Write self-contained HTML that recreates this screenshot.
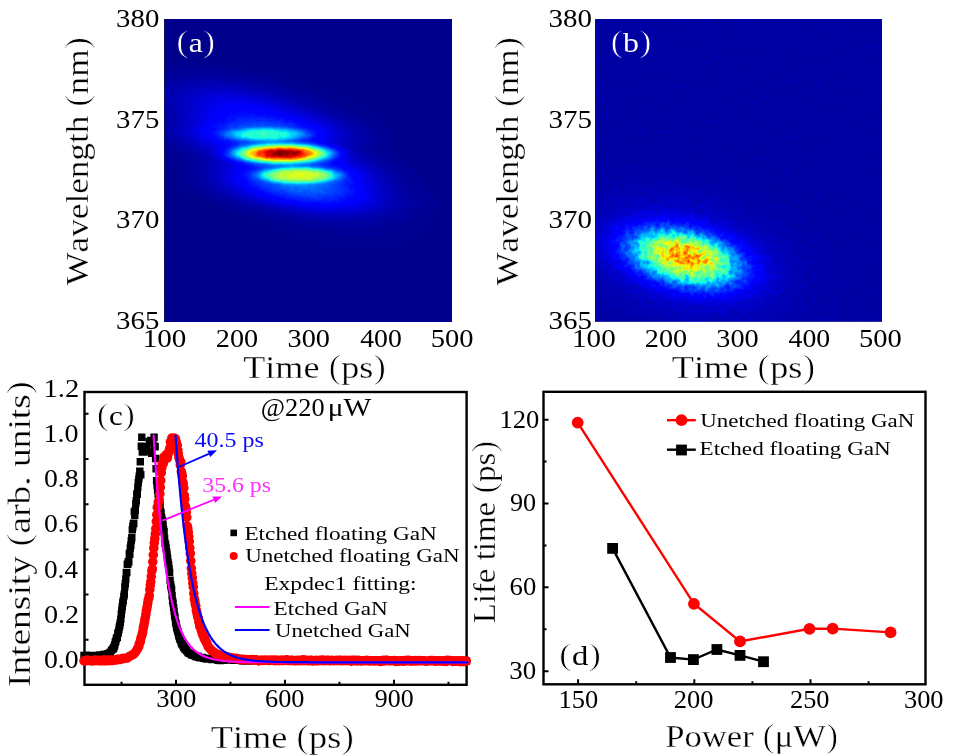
<!DOCTYPE html>
<html><head><meta charset="utf-8"><title>figure</title>
<style>html,body{margin:0;padding:0;background:#fff;overflow:hidden}svg{display:block;will-change:transform}</style>
</head><body>
<svg width="957" height="755" viewBox="0 0 957 755">
<defs><radialGradient id="g1"><stop offset="0.000" stop-color="#fff" stop-opacity="0.1400"/><stop offset="0.042" stop-color="#fff" stop-opacity="0.1388"/><stop offset="0.083" stop-color="#fff" stop-opacity="0.1351"/><stop offset="0.125" stop-color="#fff" stop-opacity="0.1292"/><stop offset="0.167" stop-color="#fff" stop-opacity="0.1214"/><stop offset="0.208" stop-color="#fff" stop-opacity="0.1121"/><stop offset="0.250" stop-color="#fff" stop-opacity="0.1017"/><stop offset="0.292" stop-color="#fff" stop-opacity="0.0906"/><stop offset="0.333" stop-color="#fff" stop-opacity="0.0793"/><stop offset="0.375" stop-color="#fff" stop-opacity="0.0681"/><stop offset="0.417" stop-color="#fff" stop-opacity="0.0576"/><stop offset="0.458" stop-color="#fff" stop-opacity="0.0478"/><stop offset="0.500" stop-color="#fff" stop-opacity="0.0389"/><stop offset="0.542" stop-color="#fff" stop-opacity="0.0312"/><stop offset="0.583" stop-color="#fff" stop-opacity="0.0245"/><stop offset="0.625" stop-color="#fff" stop-opacity="0.0189"/><stop offset="0.667" stop-color="#fff" stop-opacity="0.0144"/><stop offset="0.708" stop-color="#fff" stop-opacity="0.0107"/><stop offset="0.750" stop-color="#fff" stop-opacity="0.0079"/><stop offset="0.792" stop-color="#fff" stop-opacity="0.0057"/><stop offset="0.833" stop-color="#fff" stop-opacity="0.0040"/><stop offset="0.875" stop-color="#fff" stop-opacity="0.0028"/><stop offset="0.917" stop-color="#fff" stop-opacity="0.0019"/><stop offset="0.958" stop-color="#fff" stop-opacity="0.0013"/><stop offset="1.000" stop-color="#fff" stop-opacity="0.0000"/></radialGradient><radialGradient id="g2"><stop offset="0.000" stop-color="#fff" stop-opacity="0.1000"/><stop offset="0.042" stop-color="#fff" stop-opacity="0.0991"/><stop offset="0.083" stop-color="#fff" stop-opacity="0.0965"/><stop offset="0.125" stop-color="#fff" stop-opacity="0.0923"/><stop offset="0.167" stop-color="#fff" stop-opacity="0.0867"/><stop offset="0.208" stop-color="#fff" stop-opacity="0.0801"/><stop offset="0.250" stop-color="#fff" stop-opacity="0.0726"/><stop offset="0.292" stop-color="#fff" stop-opacity="0.0647"/><stop offset="0.333" stop-color="#fff" stop-opacity="0.0566"/><stop offset="0.375" stop-color="#fff" stop-opacity="0.0487"/><stop offset="0.417" stop-color="#fff" stop-opacity="0.0411"/><stop offset="0.458" stop-color="#fff" stop-opacity="0.0341"/><stop offset="0.500" stop-color="#fff" stop-opacity="0.0278"/><stop offset="0.542" stop-color="#fff" stop-opacity="0.0223"/><stop offset="0.583" stop-color="#fff" stop-opacity="0.0175"/><stop offset="0.625" stop-color="#fff" stop-opacity="0.0135"/><stop offset="0.667" stop-color="#fff" stop-opacity="0.0103"/><stop offset="0.708" stop-color="#fff" stop-opacity="0.0077"/><stop offset="0.750" stop-color="#fff" stop-opacity="0.0056"/><stop offset="0.792" stop-color="#fff" stop-opacity="0.0040"/><stop offset="0.833" stop-color="#fff" stop-opacity="0.0029"/><stop offset="0.875" stop-color="#fff" stop-opacity="0.0020"/><stop offset="0.917" stop-color="#fff" stop-opacity="0.0014"/><stop offset="0.958" stop-color="#fff" stop-opacity="0.0009"/><stop offset="1.000" stop-color="#fff" stop-opacity="0.0000"/></radialGradient><radialGradient id="g3"><stop offset="0.000" stop-color="#fff" stop-opacity="0.0700"/><stop offset="0.042" stop-color="#fff" stop-opacity="0.0694"/><stop offset="0.083" stop-color="#fff" stop-opacity="0.0676"/><stop offset="0.125" stop-color="#fff" stop-opacity="0.0646"/><stop offset="0.167" stop-color="#fff" stop-opacity="0.0607"/><stop offset="0.208" stop-color="#fff" stop-opacity="0.0561"/><stop offset="0.250" stop-color="#fff" stop-opacity="0.0508"/><stop offset="0.292" stop-color="#fff" stop-opacity="0.0453"/><stop offset="0.333" stop-color="#fff" stop-opacity="0.0396"/><stop offset="0.375" stop-color="#fff" stop-opacity="0.0341"/><stop offset="0.417" stop-color="#fff" stop-opacity="0.0288"/><stop offset="0.458" stop-color="#fff" stop-opacity="0.0239"/><stop offset="0.500" stop-color="#fff" stop-opacity="0.0195"/><stop offset="0.542" stop-color="#fff" stop-opacity="0.0156"/><stop offset="0.583" stop-color="#fff" stop-opacity="0.0123"/><stop offset="0.625" stop-color="#fff" stop-opacity="0.0095"/><stop offset="0.667" stop-color="#fff" stop-opacity="0.0072"/><stop offset="0.708" stop-color="#fff" stop-opacity="0.0054"/><stop offset="0.750" stop-color="#fff" stop-opacity="0.0039"/><stop offset="0.792" stop-color="#fff" stop-opacity="0.0028"/><stop offset="0.833" stop-color="#fff" stop-opacity="0.0020"/><stop offset="0.875" stop-color="#fff" stop-opacity="0.0014"/><stop offset="0.917" stop-color="#fff" stop-opacity="0.0009"/><stop offset="0.958" stop-color="#fff" stop-opacity="0.0006"/><stop offset="1.000" stop-color="#fff" stop-opacity="0.0000"/></radialGradient><radialGradient id="g4"><stop offset="0.000" stop-color="#fff" stop-opacity="0.1100"/><stop offset="0.042" stop-color="#fff" stop-opacity="0.1090"/><stop offset="0.083" stop-color="#fff" stop-opacity="0.1062"/><stop offset="0.125" stop-color="#fff" stop-opacity="0.1015"/><stop offset="0.167" stop-color="#fff" stop-opacity="0.0954"/><stop offset="0.208" stop-color="#fff" stop-opacity="0.0881"/><stop offset="0.250" stop-color="#fff" stop-opacity="0.0799"/><stop offset="0.292" stop-color="#fff" stop-opacity="0.0712"/><stop offset="0.333" stop-color="#fff" stop-opacity="0.0623"/><stop offset="0.375" stop-color="#fff" stop-opacity="0.0535"/><stop offset="0.417" stop-color="#fff" stop-opacity="0.0452"/><stop offset="0.458" stop-color="#fff" stop-opacity="0.0375"/><stop offset="0.500" stop-color="#fff" stop-opacity="0.0306"/><stop offset="0.542" stop-color="#fff" stop-opacity="0.0245"/><stop offset="0.583" stop-color="#fff" stop-opacity="0.0193"/><stop offset="0.625" stop-color="#fff" stop-opacity="0.0149"/><stop offset="0.667" stop-color="#fff" stop-opacity="0.0113"/><stop offset="0.708" stop-color="#fff" stop-opacity="0.0084"/><stop offset="0.750" stop-color="#fff" stop-opacity="0.0062"/><stop offset="0.792" stop-color="#fff" stop-opacity="0.0044"/><stop offset="0.833" stop-color="#fff" stop-opacity="0.0031"/><stop offset="0.875" stop-color="#fff" stop-opacity="0.0022"/><stop offset="0.917" stop-color="#fff" stop-opacity="0.0015"/><stop offset="0.958" stop-color="#fff" stop-opacity="0.0010"/><stop offset="1.000" stop-color="#fff" stop-opacity="0.0000"/></radialGradient><radialGradient id="g5"><stop offset="0.000" stop-color="#fff" stop-opacity="0.1200"/><stop offset="0.042" stop-color="#fff" stop-opacity="0.1189"/><stop offset="0.083" stop-color="#fff" stop-opacity="0.1158"/><stop offset="0.125" stop-color="#fff" stop-opacity="0.1108"/><stop offset="0.167" stop-color="#fff" stop-opacity="0.1041"/><stop offset="0.208" stop-color="#fff" stop-opacity="0.0961"/><stop offset="0.250" stop-color="#fff" stop-opacity="0.0871"/><stop offset="0.292" stop-color="#fff" stop-opacity="0.0776"/><stop offset="0.333" stop-color="#fff" stop-opacity="0.0679"/><stop offset="0.375" stop-color="#fff" stop-opacity="0.0584"/><stop offset="0.417" stop-color="#fff" stop-opacity="0.0493"/><stop offset="0.458" stop-color="#fff" stop-opacity="0.0409"/><stop offset="0.500" stop-color="#fff" stop-opacity="0.0334"/><stop offset="0.542" stop-color="#fff" stop-opacity="0.0267"/><stop offset="0.583" stop-color="#fff" stop-opacity="0.0210"/><stop offset="0.625" stop-color="#fff" stop-opacity="0.0162"/><stop offset="0.667" stop-color="#fff" stop-opacity="0.0123"/><stop offset="0.708" stop-color="#fff" stop-opacity="0.0092"/><stop offset="0.750" stop-color="#fff" stop-opacity="0.0067"/><stop offset="0.792" stop-color="#fff" stop-opacity="0.0048"/><stop offset="0.833" stop-color="#fff" stop-opacity="0.0034"/><stop offset="0.875" stop-color="#fff" stop-opacity="0.0024"/><stop offset="0.917" stop-color="#fff" stop-opacity="0.0016"/><stop offset="0.958" stop-color="#fff" stop-opacity="0.0011"/><stop offset="1.000" stop-color="#fff" stop-opacity="0.0000"/></radialGradient><radialGradient id="g6"><stop offset="0.000" stop-color="#fff" stop-opacity="0.2300"/><stop offset="0.042" stop-color="#fff" stop-opacity="0.2300"/><stop offset="0.083" stop-color="#fff" stop-opacity="0.2294"/><stop offset="0.125" stop-color="#fff" stop-opacity="0.2271"/><stop offset="0.167" stop-color="#fff" stop-opacity="0.2209"/><stop offset="0.208" stop-color="#fff" stop-opacity="0.2084"/><stop offset="0.250" stop-color="#fff" stop-opacity="0.1874"/><stop offset="0.292" stop-color="#fff" stop-opacity="0.1574"/><stop offset="0.333" stop-color="#fff" stop-opacity="0.1204"/><stop offset="0.375" stop-color="#fff" stop-opacity="0.0816"/><stop offset="0.417" stop-color="#fff" stop-opacity="0.0474"/><stop offset="0.458" stop-color="#fff" stop-opacity="0.0227"/><stop offset="0.500" stop-color="#fff" stop-opacity="0.0087"/><stop offset="0.542" stop-color="#fff" stop-opacity="0.0025"/><stop offset="0.583" stop-color="#fff" stop-opacity="0.0005"/><stop offset="0.625" stop-color="#fff" stop-opacity="0.0001"/><stop offset="0.667" stop-color="#fff" stop-opacity="0.0000"/><stop offset="0.708" stop-color="#fff" stop-opacity="0.0000"/><stop offset="0.750" stop-color="#fff" stop-opacity="0.0000"/><stop offset="0.792" stop-color="#fff" stop-opacity="0.0000"/><stop offset="0.833" stop-color="#fff" stop-opacity="0.0000"/><stop offset="0.875" stop-color="#fff" stop-opacity="0.0000"/><stop offset="0.917" stop-color="#fff" stop-opacity="0.0000"/><stop offset="0.958" stop-color="#fff" stop-opacity="0.0000"/><stop offset="1.000" stop-color="#fff" stop-opacity="0.0000"/></radialGradient><radialGradient id="g7"><stop offset="0.000" stop-color="#fff" stop-opacity="0.4700"/><stop offset="0.042" stop-color="#fff" stop-opacity="0.4699"/><stop offset="0.083" stop-color="#fff" stop-opacity="0.4688"/><stop offset="0.125" stop-color="#fff" stop-opacity="0.4640"/><stop offset="0.167" stop-color="#fff" stop-opacity="0.4514"/><stop offset="0.208" stop-color="#fff" stop-opacity="0.4258"/><stop offset="0.250" stop-color="#fff" stop-opacity="0.3830"/><stop offset="0.292" stop-color="#fff" stop-opacity="0.3216"/><stop offset="0.333" stop-color="#fff" stop-opacity="0.2460"/><stop offset="0.375" stop-color="#fff" stop-opacity="0.1667"/><stop offset="0.417" stop-color="#fff" stop-opacity="0.0968"/><stop offset="0.458" stop-color="#fff" stop-opacity="0.0465"/><stop offset="0.500" stop-color="#fff" stop-opacity="0.0177"/><stop offset="0.542" stop-color="#fff" stop-opacity="0.0052"/><stop offset="0.583" stop-color="#fff" stop-opacity="0.0011"/><stop offset="0.625" stop-color="#fff" stop-opacity="0.0002"/><stop offset="0.667" stop-color="#fff" stop-opacity="0.0000"/><stop offset="0.708" stop-color="#fff" stop-opacity="0.0000"/><stop offset="0.750" stop-color="#fff" stop-opacity="0.0000"/><stop offset="0.792" stop-color="#fff" stop-opacity="0.0000"/><stop offset="0.833" stop-color="#fff" stop-opacity="0.0000"/><stop offset="0.875" stop-color="#fff" stop-opacity="0.0000"/><stop offset="0.917" stop-color="#fff" stop-opacity="0.0000"/><stop offset="0.958" stop-color="#fff" stop-opacity="0.0000"/><stop offset="1.000" stop-color="#fff" stop-opacity="0.0000"/></radialGradient><radialGradient id="g8"><stop offset="0.000" stop-color="#fff" stop-opacity="0.9700"/><stop offset="0.042" stop-color="#fff" stop-opacity="0.9689"/><stop offset="0.083" stop-color="#fff" stop-opacity="0.9608"/><stop offset="0.125" stop-color="#fff" stop-opacity="0.9395"/><stop offset="0.167" stop-color="#fff" stop-opacity="0.8991"/><stop offset="0.208" stop-color="#fff" stop-opacity="0.8364"/><stop offset="0.250" stop-color="#fff" stop-opacity="0.7509"/><stop offset="0.292" stop-color="#fff" stop-opacity="0.6460"/><stop offset="0.333" stop-color="#fff" stop-opacity="0.5287"/><stop offset="0.375" stop-color="#fff" stop-opacity="0.4088"/><stop offset="0.417" stop-color="#fff" stop-opacity="0.2965"/><stop offset="0.458" stop-color="#fff" stop-opacity="0.2003"/><stop offset="0.500" stop-color="#fff" stop-opacity="0.1251"/><stop offset="0.542" stop-color="#fff" stop-opacity="0.0718"/><stop offset="0.583" stop-color="#fff" stop-opacity="0.0375"/><stop offset="0.625" stop-color="#fff" stop-opacity="0.0178"/><stop offset="0.667" stop-color="#fff" stop-opacity="0.0076"/><stop offset="0.708" stop-color="#fff" stop-opacity="0.0029"/><stop offset="0.750" stop-color="#fff" stop-opacity="0.0010"/><stop offset="0.792" stop-color="#fff" stop-opacity="0.0003"/><stop offset="0.833" stop-color="#fff" stop-opacity="0.0001"/><stop offset="0.875" stop-color="#fff" stop-opacity="0.0000"/><stop offset="0.917" stop-color="#fff" stop-opacity="0.0000"/><stop offset="0.958" stop-color="#fff" stop-opacity="0.0000"/><stop offset="1.000" stop-color="#fff" stop-opacity="0.0000"/></radialGradient><radialGradient id="g9"><stop offset="0.000" stop-color="#fff" stop-opacity="0.0800"/><stop offset="0.042" stop-color="#fff" stop-opacity="0.0793"/><stop offset="0.083" stop-color="#fff" stop-opacity="0.0772"/><stop offset="0.125" stop-color="#fff" stop-opacity="0.0738"/><stop offset="0.167" stop-color="#fff" stop-opacity="0.0694"/><stop offset="0.208" stop-color="#fff" stop-opacity="0.0641"/><stop offset="0.250" stop-color="#fff" stop-opacity="0.0581"/><stop offset="0.292" stop-color="#fff" stop-opacity="0.0518"/><stop offset="0.333" stop-color="#fff" stop-opacity="0.0453"/><stop offset="0.375" stop-color="#fff" stop-opacity="0.0389"/><stop offset="0.417" stop-color="#fff" stop-opacity="0.0329"/><stop offset="0.458" stop-color="#fff" stop-opacity="0.0273"/><stop offset="0.500" stop-color="#fff" stop-opacity="0.0222"/><stop offset="0.542" stop-color="#fff" stop-opacity="0.0178"/><stop offset="0.583" stop-color="#fff" stop-opacity="0.0140"/><stop offset="0.625" stop-color="#fff" stop-opacity="0.0108"/><stop offset="0.667" stop-color="#fff" stop-opacity="0.0082"/><stop offset="0.708" stop-color="#fff" stop-opacity="0.0061"/><stop offset="0.750" stop-color="#fff" stop-opacity="0.0045"/><stop offset="0.792" stop-color="#fff" stop-opacity="0.0032"/><stop offset="0.833" stop-color="#fff" stop-opacity="0.0023"/><stop offset="0.875" stop-color="#fff" stop-opacity="0.0016"/><stop offset="0.917" stop-color="#fff" stop-opacity="0.0011"/><stop offset="0.958" stop-color="#fff" stop-opacity="0.0007"/><stop offset="1.000" stop-color="#fff" stop-opacity="0.0000"/></radialGradient><radialGradient id="g10"><stop offset="0.000" stop-color="#fff" stop-opacity="0.6400"/><stop offset="0.042" stop-color="#fff" stop-opacity="0.6375"/><stop offset="0.083" stop-color="#fff" stop-opacity="0.6267"/><stop offset="0.125" stop-color="#fff" stop-opacity="0.6055"/><stop offset="0.167" stop-color="#fff" stop-opacity="0.5730"/><stop offset="0.208" stop-color="#fff" stop-opacity="0.5298"/><stop offset="0.250" stop-color="#fff" stop-opacity="0.4776"/><stop offset="0.292" stop-color="#fff" stop-opacity="0.4190"/><stop offset="0.333" stop-color="#fff" stop-opacity="0.3570"/><stop offset="0.375" stop-color="#fff" stop-opacity="0.2950"/><stop offset="0.417" stop-color="#fff" stop-opacity="0.2361"/><stop offset="0.458" stop-color="#fff" stop-opacity="0.1827"/><stop offset="0.500" stop-color="#fff" stop-opacity="0.1366"/><stop offset="0.542" stop-color="#fff" stop-opacity="0.0985"/><stop offset="0.583" stop-color="#fff" stop-opacity="0.0684"/><stop offset="0.625" stop-color="#fff" stop-opacity="0.0457"/><stop offset="0.667" stop-color="#fff" stop-opacity="0.0294"/><stop offset="0.708" stop-color="#fff" stop-opacity="0.0181"/><stop offset="0.750" stop-color="#fff" stop-opacity="0.0107"/><stop offset="0.792" stop-color="#fff" stop-opacity="0.0061"/><stop offset="0.833" stop-color="#fff" stop-opacity="0.0033"/><stop offset="0.875" stop-color="#fff" stop-opacity="0.0017"/><stop offset="0.917" stop-color="#fff" stop-opacity="0.0009"/><stop offset="0.958" stop-color="#fff" stop-opacity="0.0004"/><stop offset="1.000" stop-color="#fff" stop-opacity="0.0000"/></radialGradient><radialGradient id="g11"><stop offset="0.000" stop-color="#fff" stop-opacity="0.2200"/><stop offset="0.042" stop-color="#fff" stop-opacity="0.2187"/><stop offset="0.083" stop-color="#fff" stop-opacity="0.2141"/><stop offset="0.125" stop-color="#fff" stop-opacity="0.2058"/><stop offset="0.167" stop-color="#fff" stop-opacity="0.1941"/><stop offset="0.208" stop-color="#fff" stop-opacity="0.1792"/><stop offset="0.250" stop-color="#fff" stop-opacity="0.1620"/><stop offset="0.292" stop-color="#fff" stop-opacity="0.1432"/><stop offset="0.333" stop-color="#fff" stop-opacity="0.1236"/><stop offset="0.375" stop-color="#fff" stop-opacity="0.1043"/><stop offset="0.417" stop-color="#fff" stop-opacity="0.0858"/><stop offset="0.458" stop-color="#fff" stop-opacity="0.0689"/><stop offset="0.500" stop-color="#fff" stop-opacity="0.0539"/><stop offset="0.542" stop-color="#fff" stop-opacity="0.0411"/><stop offset="0.583" stop-color="#fff" stop-opacity="0.0306"/><stop offset="0.625" stop-color="#fff" stop-opacity="0.0221"/><stop offset="0.667" stop-color="#fff" stop-opacity="0.0156"/><stop offset="0.708" stop-color="#fff" stop-opacity="0.0107"/><stop offset="0.750" stop-color="#fff" stop-opacity="0.0071"/><stop offset="0.792" stop-color="#fff" stop-opacity="0.0046"/><stop offset="0.833" stop-color="#fff" stop-opacity="0.0029"/><stop offset="0.875" stop-color="#fff" stop-opacity="0.0018"/><stop offset="0.917" stop-color="#fff" stop-opacity="0.0011"/><stop offset="0.958" stop-color="#fff" stop-opacity="0.0006"/><stop offset="1.000" stop-color="#fff" stop-opacity="0.0000"/></radialGradient><filter id="jetA" filterUnits="userSpaceOnUse" x="164" y="19" width="288" height="303" color-interpolation-filters="sRGB">
<feTurbulence type="fractalNoise" baseFrequency="0.18" numOctaves="2" seed="7" result="n"/>
<feColorMatrix in="n" type="matrix" values="1 0 0 0 0  1 0 0 0 0  1 0 0 0 0  0 0 0 0 1" result="ng"/>
<feComposite in="SourceGraphic" in2="ng" operator="arithmetic" k1="0.2" k2="0.9" k3="0" k4="0"/>
<feComponentTransfer>
<feFuncR type="table" tableValues="0.000 0.000 0.000 0.000 0.000 0.000 0.000 0.000 0.000 0.000 0.000 0.000 0.000 0.000 0.000 0.000 0.000 0.000 0.000 0.000 0.000 0.000 0.000 0.000 0.000 0.000 0.000 0.000 0.000 0.000 0.000 0.000 0.000 0.000 0.000 0.000 0.032 0.065 0.097 0.129 0.161 0.194 0.226 0.258 0.290 0.323 0.355 0.387 0.419 0.452 0.484 0.516 0.548 0.581 0.613 0.645 0.677 0.710 0.742 0.774 0.806 0.839 0.871 0.903 0.935 0.968 1.000 1.000 1.000 1.000 1.000 1.000 1.000 1.000 1.000 1.000 1.000 1.000 1.000 1.000 1.000 1.000 1.000 1.000 1.000 1.000 1.000 1.000 1.000 1.000 0.955 0.909 0.864 0.818 0.773 0.727 0.682 0.636 0.591 0.545 0.500"/>
<feFuncG type="table" tableValues="0.000 0.000 0.000 0.000 0.000 0.000 0.000 0.000 0.000 0.000 0.000 0.000 0.000 0.020 0.060 0.100 0.140 0.180 0.220 0.260 0.300 0.340 0.380 0.420 0.460 0.500 0.540 0.580 0.620 0.660 0.700 0.740 0.780 0.820 0.860 0.900 0.940 0.980 1.000 1.000 1.000 1.000 1.000 1.000 1.000 1.000 1.000 1.000 1.000 1.000 1.000 1.000 1.000 1.000 1.000 1.000 1.000 1.000 1.000 1.000 1.000 1.000 1.000 1.000 1.000 0.963 0.926 0.889 0.852 0.815 0.778 0.741 0.704 0.667 0.630 0.593 0.556 0.519 0.481 0.444 0.407 0.370 0.333 0.296 0.259 0.222 0.185 0.148 0.111 0.074 0.037 0.000 0.000 0.000 0.000 0.000 0.000 0.000 0.000 0.000 0.000"/>
<feFuncB type="table" tableValues="0.500 0.545 0.591 0.636 0.682 0.727 0.773 0.818 0.864 0.909 0.955 1.000 1.000 1.000 1.000 1.000 1.000 1.000 1.000 1.000 1.000 1.000 1.000 1.000 1.000 1.000 1.000 1.000 1.000 1.000 1.000 1.000 1.000 1.000 1.000 0.968 0.935 0.903 0.871 0.839 0.806 0.774 0.742 0.710 0.677 0.645 0.613 0.581 0.548 0.516 0.484 0.452 0.419 0.387 0.355 0.323 0.290 0.258 0.226 0.194 0.161 0.129 0.097 0.065 0.032 0.000 0.000 0.000 0.000 0.000 0.000 0.000 0.000 0.000 0.000 0.000 0.000 0.000 0.000 0.000 0.000 0.000 0.000 0.000 0.000 0.000 0.000 0.000 0.000 0.000 0.000 0.000 0.000 0.000 0.000 0.000 0.000 0.000 0.000 0.000 0.000"/>
</feComponentTransfer></filter>
<filter id="jetB" filterUnits="userSpaceOnUse" x="595" y="19" width="287.0" height="302.6" color-interpolation-filters="sRGB">
<feTurbulence type="fractalNoise" baseFrequency="0.2" numOctaves="2" seed="4" result="n"/>
<feColorMatrix in="n" type="matrix" values="1 0 0 0 0  1 0 0 0 0  1 0 0 0 0  0 0 0 0 1" result="ng"/>
<feComposite in="SourceGraphic" in2="ng" operator="arithmetic" k1="0.8" k2="0.6" k3="0" k4="0"/>
<feComponentTransfer>
<feFuncR type="table" tableValues="0.000 0.000 0.000 0.000 0.000 0.000 0.000 0.000 0.000 0.000 0.000 0.000 0.000 0.000 0.000 0.000 0.000 0.000 0.000 0.000 0.000 0.000 0.000 0.000 0.000 0.000 0.000 0.000 0.000 0.000 0.000 0.000 0.000 0.000 0.000 0.000 0.032 0.065 0.097 0.129 0.161 0.194 0.226 0.258 0.290 0.323 0.355 0.387 0.419 0.452 0.484 0.516 0.548 0.581 0.613 0.645 0.677 0.710 0.742 0.774 0.806 0.839 0.871 0.903 0.935 0.968 1.000 1.000 1.000 1.000 1.000 1.000 1.000 1.000 1.000 1.000 1.000 1.000 1.000 1.000 1.000 1.000 1.000 1.000 1.000 1.000 1.000 1.000 1.000 1.000 0.955 0.909 0.864 0.818 0.773 0.727 0.682 0.636 0.591 0.545 0.500"/>
<feFuncG type="table" tableValues="0.000 0.000 0.000 0.000 0.000 0.000 0.000 0.000 0.000 0.000 0.000 0.000 0.000 0.020 0.060 0.100 0.140 0.180 0.220 0.260 0.300 0.340 0.380 0.420 0.460 0.500 0.540 0.580 0.620 0.660 0.700 0.740 0.780 0.820 0.860 0.900 0.940 0.980 1.000 1.000 1.000 1.000 1.000 1.000 1.000 1.000 1.000 1.000 1.000 1.000 1.000 1.000 1.000 1.000 1.000 1.000 1.000 1.000 1.000 1.000 1.000 1.000 1.000 1.000 1.000 0.963 0.926 0.889 0.852 0.815 0.778 0.741 0.704 0.667 0.630 0.593 0.556 0.519 0.481 0.444 0.407 0.370 0.333 0.296 0.259 0.222 0.185 0.148 0.111 0.074 0.037 0.000 0.000 0.000 0.000 0.000 0.000 0.000 0.000 0.000 0.000"/>
<feFuncB type="table" tableValues="0.500 0.545 0.591 0.636 0.682 0.727 0.773 0.818 0.864 0.909 0.955 1.000 1.000 1.000 1.000 1.000 1.000 1.000 1.000 1.000 1.000 1.000 1.000 1.000 1.000 1.000 1.000 1.000 1.000 1.000 1.000 1.000 1.000 1.000 1.000 0.968 0.935 0.903 0.871 0.839 0.806 0.774 0.742 0.710 0.677 0.645 0.613 0.581 0.548 0.516 0.484 0.452 0.419 0.387 0.355 0.323 0.290 0.258 0.226 0.194 0.161 0.129 0.097 0.065 0.032 0.000 0.000 0.000 0.000 0.000 0.000 0.000 0.000 0.000 0.000 0.000 0.000 0.000 0.000 0.000 0.000 0.000 0.000 0.000 0.000 0.000 0.000 0.000 0.000 0.000 0.000 0.000 0.000 0.000 0.000 0.000 0.000 0.000 0.000 0.000 0.000"/>
</feComponentTransfer></filter></defs>
<rect width="957" height="755" fill="#fff"/>
<g filter="url(#jetA)"><rect x="164" y="19" width="288" height="303" fill="rgb(3,3,3)"/><ellipse cx="282" cy="158" rx="179.20" ry="76.80" fill="url(#g1)" transform="rotate(24 282 158)"/><ellipse cx="262" cy="133" rx="147.20" ry="28.80" fill="url(#g2)"/><ellipse cx="252" cy="112" rx="176.00" ry="51.20" fill="url(#g3)" transform="rotate(12 252 112)"/><ellipse cx="308" cy="193" rx="153.60" ry="35.20" fill="url(#g4)" transform="rotate(5 308 193)"/><ellipse cx="300" cy="176" rx="134.40" ry="32.00" fill="url(#g5)"/><ellipse cx="266" cy="134.4" rx="105.60" ry="17.28" fill="url(#g6)"/><ellipse cx="299" cy="175.3" rx="99.20" ry="20.16" fill="url(#g7)"/><ellipse cx="282.5" cy="153.6" rx="107.20" ry="21.44" fill="url(#g8)"/></g>
<g filter="url(#jetB)"><rect x="595" y="19" width="287.0" height="302.6" fill="rgb(8,8,8)"/><ellipse cx="686" cy="258" rx="192.00" ry="108.80" fill="url(#g9)" transform="rotate(15 686 258)"/><ellipse cx="685" cy="258" rx="121.60" ry="57.60" fill="url(#g10)" transform="rotate(13 685 258)"/><ellipse cx="686" cy="252" rx="70.40" ry="27.20" fill="url(#g11)" transform="rotate(10 686 252)"/></g>
<line x1="164.5" y1="19" x2="164.5" y2="322" stroke="#223" stroke-width="1" stroke-dasharray="2 1.6"/>
<line x1="595.5" y1="19" x2="595.5" y2="322" stroke="#223" stroke-width="1" stroke-dasharray="2 1.6"/>
<g font-family="'Liberation Serif', serif" style="font-kerning:none" stroke="#fff">
<text x="116.12" y="26.70" font-size="25.5" textLength="43.28" lengthAdjust="spacingAndGlyphs" fill="#000" stroke-width="0">380</text>
<text x="548.51" y="26.70" font-size="25.5" textLength="43.49" lengthAdjust="spacingAndGlyphs" fill="#000" stroke-width="0">380</text>
<text x="116.12" y="127.70" font-size="25.5" textLength="43.31" lengthAdjust="spacingAndGlyphs" fill="#000" stroke-width="0">375</text>
<text x="548.51" y="127.70" font-size="25.5" textLength="43.52" lengthAdjust="spacingAndGlyphs" fill="#000" stroke-width="0">375</text>
<text x="116.12" y="227.60" font-size="25.5" textLength="43.28" lengthAdjust="spacingAndGlyphs" fill="#000" stroke-width="0">370</text>
<text x="548.51" y="227.60" font-size="25.5" textLength="43.49" lengthAdjust="spacingAndGlyphs" fill="#000" stroke-width="0">370</text>
<text x="116.12" y="328.50" font-size="25.5" textLength="43.31" lengthAdjust="spacingAndGlyphs" fill="#000" stroke-width="0">365</text>
<text x="548.51" y="328.50" font-size="25.5" textLength="43.52" lengthAdjust="spacingAndGlyphs" fill="#000" stroke-width="0">365</text>
<text x="142.74" y="346.80" font-size="25.5" textLength="43.67" lengthAdjust="spacingAndGlyphs" fill="#000" stroke-width="0">100</text>
<text x="572.04" y="346.80" font-size="25.5" textLength="43.67" lengthAdjust="spacingAndGlyphs" fill="#000" stroke-width="0">100</text>
<text x="215.86" y="346.80" font-size="25.5" textLength="42.31" lengthAdjust="spacingAndGlyphs" fill="#000" stroke-width="0">200</text>
<text x="644.86" y="346.80" font-size="25.5" textLength="42.31" lengthAdjust="spacingAndGlyphs" fill="#000" stroke-width="0">200</text>
<text x="287.55" y="346.80" font-size="25.5" textLength="42.43" lengthAdjust="spacingAndGlyphs" fill="#000" stroke-width="0">300</text>
<text x="716.25" y="346.80" font-size="25.5" textLength="42.43" lengthAdjust="spacingAndGlyphs" fill="#000" stroke-width="0">300</text>
<text x="360.16" y="346.80" font-size="25.5" textLength="41.60" lengthAdjust="spacingAndGlyphs" fill="#000" stroke-width="0">400</text>
<text x="788.56" y="346.80" font-size="25.5" textLength="41.60" lengthAdjust="spacingAndGlyphs" fill="#000" stroke-width="0">400</text>
<text x="430.84" y="346.80" font-size="25.5" textLength="42.74" lengthAdjust="spacingAndGlyphs" fill="#000" stroke-width="0">500</text>
<text x="858.94" y="346.80" font-size="25.5" textLength="42.74" lengthAdjust="spacingAndGlyphs" fill="#000" stroke-width="0">500</text>
<text transform="translate(87.80,0) rotate(-90)" x="-285.63" y="0" font-size="31" textLength="248.68" lengthAdjust="spacingAndGlyphs" fill="#000" stroke-width="0.3">Wavelength <tspan font-size="33" stroke-width="0.8">(</tspan>nm<tspan font-size="33" stroke-width="0.8">)</tspan></text>
<text transform="translate(518.00,0) rotate(-90)" x="-285.73" y="0" font-size="31" textLength="248.78" lengthAdjust="spacingAndGlyphs" fill="#000" stroke-width="0.3">Wavelength <tspan font-size="33" stroke-width="0.8">(</tspan>nm<tspan font-size="33" stroke-width="0.8">)</tspan></text>
<text x="243.25" y="378.40" font-size="31" textLength="142.94" lengthAdjust="spacingAndGlyphs" fill="#000" stroke-width="0.3">Time <tspan font-size="33" stroke-width="0.8">(</tspan>ps<tspan font-size="33" stroke-width="0.8">)</tspan></text>
<text x="671.74" y="378.40" font-size="31" textLength="143.55" lengthAdjust="spacingAndGlyphs" fill="#000" stroke-width="0.3">Time <tspan font-size="33" stroke-width="0.8">(</tspan>ps<tspan font-size="33" stroke-width="0.8">)</tspan></text>
<text x="176.25" y="52.00" font-size="27" textLength="38.99" lengthAdjust="spacingAndGlyphs" fill="#fff" stroke-width="0" stroke="#00008c"><tspan font-size="32" stroke-width="0.8">(</tspan>a<tspan font-size="32" stroke-width="0.8">)</tspan></text>
<text x="610.54" y="51.70" font-size="27" textLength="41.12" lengthAdjust="spacingAndGlyphs" fill="#fff" stroke-width="0" stroke="#0000a5"><tspan font-size="32" stroke-width="0.8">(</tspan>b<tspan font-size="32" stroke-width="0.8">)</tspan></text>
<text x="43.49" y="396.70" font-size="24.6" textLength="35.68" lengthAdjust="spacingAndGlyphs" fill="#000" stroke-width="0">1.2</text>
<text x="43.53" y="441.90" font-size="24.6" textLength="35.14" lengthAdjust="spacingAndGlyphs" fill="#000" stroke-width="0">1.0</text>
<text x="43.94" y="487.10" font-size="24.6" textLength="34.72" lengthAdjust="spacingAndGlyphs" fill="#000" stroke-width="0">0.8</text>
<text x="43.95" y="532.30" font-size="24.6" textLength="34.47" lengthAdjust="spacingAndGlyphs" fill="#000" stroke-width="0">0.6</text>
<text x="43.96" y="577.50" font-size="24.6" textLength="34.06" lengthAdjust="spacingAndGlyphs" fill="#000" stroke-width="0">0.4</text>
<text x="43.93" y="622.70" font-size="24.6" textLength="35.23" lengthAdjust="spacingAndGlyphs" fill="#000" stroke-width="0">0.2</text>
<text x="43.94" y="667.90" font-size="24.6" textLength="34.72" lengthAdjust="spacingAndGlyphs" fill="#000" stroke-width="0">0.0</text>
<text x="156.22" y="707.30" font-size="25" textLength="39.99" lengthAdjust="spacingAndGlyphs" fill="#000" stroke-width="0">300</text>
<text x="265.07" y="707.30" font-size="25" textLength="39.43" lengthAdjust="spacingAndGlyphs" fill="#000" stroke-width="0">600</text>
<text x="374.87" y="707.30" font-size="25" textLength="38.82" lengthAdjust="spacingAndGlyphs" fill="#000" stroke-width="0">900</text>
<text transform="translate(30.10,0) rotate(-90)" x="-687.05" y="0" font-size="31" textLength="306.10" lengthAdjust="spacingAndGlyphs" fill="#000" stroke-width="0.3">Intensity <tspan font-size="33" stroke-width="0.8">(</tspan>arb. units<tspan font-size="33" stroke-width="0.8">)</tspan></text>
<text x="210.85" y="747.60" font-size="31" textLength="143.25" lengthAdjust="spacingAndGlyphs" fill="#000" stroke-width="0.3">Time <tspan font-size="33" stroke-width="0.8">(</tspan>ps<tspan font-size="33" stroke-width="0.8">)</tspan></text>
<text x="96.68" y="424.50" font-size="27" textLength="38.34" lengthAdjust="spacingAndGlyphs" fill="#000" stroke-width="0"><tspan font-size="32" stroke-width="0.8">(</tspan>c<tspan font-size="32" stroke-width="0.8">)</tspan></text>
<text x="260.80" y="415.70" font-size="25.5" textLength="63.81" lengthAdjust="spacingAndGlyphs" fill="#000" stroke-width="0">@220</text>
<text x="327.72" y="415.80" font-size="25.5" textLength="43.54" lengthAdjust="spacingAndGlyphs" fill="#000" stroke-width="0">μW</text>
<text x="194.53" y="447.10" font-size="20" textLength="69.23" lengthAdjust="spacingAndGlyphs" fill="#0a0aff" stroke-width="0">40.5 ps</text>
<text x="202.26" y="492.40" font-size="20" textLength="68.80" lengthAdjust="spacingAndGlyphs" fill="#ff33ff" stroke-width="0">35.6 ps</text>
<text x="244.43" y="540.10" font-size="19" textLength="192.40" lengthAdjust="spacingAndGlyphs" fill="#000" stroke-width="0">Etched floating GaN</text>
<text x="245.22" y="562.00" font-size="19" textLength="214.31" lengthAdjust="spacingAndGlyphs" fill="#000" stroke-width="0">Unetched floating GaN</text>
<text x="264.22" y="590.20" font-size="19" textLength="152.29" lengthAdjust="spacingAndGlyphs" fill="#000" stroke-width="0">Expdec1 fitting:</text>
<text x="273.63" y="615.00" font-size="19" textLength="114.10" lengthAdjust="spacingAndGlyphs" fill="#000" stroke-width="0">Etched GaN</text>
<text x="275.12" y="637.00" font-size="19" textLength="135.60" lengthAdjust="spacingAndGlyphs" fill="#000" stroke-width="0">Unetched GaN</text>
<text x="499.47" y="427.70" font-size="25" textLength="39.85" lengthAdjust="spacingAndGlyphs" fill="#000" stroke-width="0">120</text>
<text x="510.06" y="510.60" font-size="25" textLength="26.14" lengthAdjust="spacingAndGlyphs" fill="#000" stroke-width="0">90</text>
<text x="509.55" y="594.50" font-size="25" textLength="26.66" lengthAdjust="spacingAndGlyphs" fill="#000" stroke-width="0">60</text>
<text x="509.31" y="678.70" font-size="25" textLength="26.91" lengthAdjust="spacingAndGlyphs" fill="#000" stroke-width="0">30</text>
<text x="558.47" y="707.50" font-size="25" textLength="39.74" lengthAdjust="spacingAndGlyphs" fill="#000" stroke-width="0">150</text>
<text x="673.83" y="707.50" font-size="25" textLength="39.78" lengthAdjust="spacingAndGlyphs" fill="#000" stroke-width="0">200</text>
<text x="790.04" y="707.50" font-size="25" textLength="39.46" lengthAdjust="spacingAndGlyphs" fill="#000" stroke-width="0">250</text>
<text x="903.93" y="707.50" font-size="25" textLength="39.67" lengthAdjust="spacingAndGlyphs" fill="#000" stroke-width="0">300</text>
<text transform="translate(494.90,0) rotate(-90)" x="-623.35" y="0" font-size="31" textLength="182.39" lengthAdjust="spacingAndGlyphs" fill="#000" stroke-width="0.3">Life time <tspan font-size="33" stroke-width="0.8">(</tspan>ps<tspan font-size="33" stroke-width="0.8">)</tspan></text>
<text x="665.30" y="747.00" font-size="31" textLength="172.92" lengthAdjust="spacingAndGlyphs" fill="#000" stroke-width="0.3">Power <tspan font-size="33" stroke-width="0.8">(</tspan>μW<tspan font-size="33" stroke-width="0.8">)</tspan></text>
<text x="559.10" y="664.50" font-size="27" textLength="42.10" lengthAdjust="spacingAndGlyphs" fill="#000" stroke-width="0"><tspan font-size="32" stroke-width="0.8">(</tspan>d<tspan font-size="32" stroke-width="0.8">)</tspan></text>
<text x="700.22" y="426.60" font-size="19" textLength="214.01" lengthAdjust="spacingAndGlyphs" fill="#000" stroke-width="0">Unetched floating GaN</text>
<text x="699.53" y="455.30" font-size="19" textLength="191.30" lengthAdjust="spacingAndGlyphs" fill="#000" stroke-width="0">Etched floating GaN</text>
</g>
<path d="M84.5,413.80h4 M84.5,459.00h4 M84.5,504.20h4 M84.5,549.40h4 M84.5,594.60h4 M84.5,639.80h4 M121.50,684.8v-3 M175.99,684.8v-5 M230.49,684.8v-3 M284.98,684.8v-5 M339.48,684.8v-3 M393.97,684.8v-5 M448.47,684.8v-3 M543.5,671.20h5 M543.5,629.28h3 M543.5,587.37h5 M543.5,545.45h3 M543.5,503.54h5 M543.5,461.62h3 M543.5,419.70h5 M578.10,684.3v-5 M636.20,684.3v-3 M694.30,684.3v-5 M752.40,684.3v-3 M810.50,684.3v-5 M868.60,684.3v-3" stroke="#000" stroke-width="2" fill="none"/>
<rect x="84.5" y="392" width="382.10" height="292.80" fill="none" stroke="#000" stroke-width="2.4"/>
<rect x="543.5" y="391.8" width="382.00" height="292.50" fill="none" stroke="#000" stroke-width="2.4"/>
<path d="M80.3,651.8h7.4v7.4h-7.4zM81.5,652.3h7.4v7.4h-7.4zM82.7,651.4h7.4v7.4h-7.4zM83.9,652.2h7.4v7.4h-7.4zM85.1,651.7h7.4v7.4h-7.4zM86.3,651.7h7.4v7.4h-7.4zM87.5,652.5h7.4v7.4h-7.4zM88.7,651.9h7.4v7.4h-7.4zM89.9,651.8h7.4v7.4h-7.4zM91.1,652.1h7.4v7.4h-7.4zM92.3,652.2h7.4v7.4h-7.4zM93.5,651.7h7.4v7.4h-7.4zM94.7,651.9h7.4v7.4h-7.4zM95.9,651.2h7.4v7.4h-7.4zM97.1,651.4h7.4v7.4h-7.4zM98.3,651.3h7.4v7.4h-7.4zM99.5,650.9h7.4v7.4h-7.4zM100.7,650.8h7.4v7.4h-7.4zM101.9,650.4h7.4v7.4h-7.4zM103.1,650.5h7.4v7.4h-7.4zM104.3,650.1h7.4v7.4h-7.4zM105.5,649.5h7.4v7.4h-7.4zM106.7,648.4h7.4v7.4h-7.4zM107.9,646.6h7.4v7.4h-7.4zM109.1,645.4h7.4v7.4h-7.4zM109.6,644.7h7.4v7.4h-7.4zM110.1,644.1h7.4v7.4h-7.4zM110.6,642.4h7.4v7.4h-7.4zM111.1,641.0h7.4v7.4h-7.4zM111.6,638.5h7.4v7.4h-7.4zM112.1,637.7h7.4v7.4h-7.4zM112.6,635.2h7.4v7.4h-7.4zM113.1,633.9h7.4v7.4h-7.4zM113.6,633.8h7.4v7.4h-7.4zM114.1,629.7h7.4v7.4h-7.4zM114.6,629.1h7.4v7.4h-7.4zM115.1,626.4h7.4v7.4h-7.4zM115.6,623.5h7.4v7.4h-7.4zM116.1,621.6h7.4v7.4h-7.4zM116.6,618.9h7.4v7.4h-7.4zM117.1,615.4h7.4v7.4h-7.4zM117.6,610.5h7.4v7.4h-7.4zM118.1,606.3h7.4v7.4h-7.4zM118.6,602.8h7.4v7.4h-7.4zM119.1,599.1h7.4v7.4h-7.4zM119.6,596.7h7.4v7.4h-7.4zM120.1,592.7h7.4v7.4h-7.4zM120.6,590.6h7.4v7.4h-7.4zM121.1,583.2h7.4v7.4h-7.4zM121.6,579.9h7.4v7.4h-7.4zM122.1,575.3h7.4v7.4h-7.4zM122.6,568.7h7.4v7.4h-7.4zM123.1,568.8h7.4v7.4h-7.4zM123.6,560.5h7.4v7.4h-7.4zM124.1,560.7h7.4v7.4h-7.4zM124.6,557.8h7.4v7.4h-7.4zM125.1,558.3h7.4v7.4h-7.4zM125.6,549.8h7.4v7.4h-7.4zM126.1,550.7h7.4v7.4h-7.4zM126.6,544.4h7.4v7.4h-7.4zM127.1,541.6h7.4v7.4h-7.4zM127.6,536.9h7.4v7.4h-7.4zM128.1,534.1h7.4v7.4h-7.4zM128.6,526.1h7.4v7.4h-7.4zM129.1,523.0h7.4v7.4h-7.4zM129.6,520.2h7.4v7.4h-7.4zM130.1,519.5h7.4v7.4h-7.4zM130.6,507.9h7.4v7.4h-7.4zM131.1,511.6h7.4v7.4h-7.4zM131.6,506.6h7.4v7.4h-7.4zM132.1,499.9h7.4v7.4h-7.4zM132.6,496.9h7.4v7.4h-7.4zM133.1,490.3h7.4v7.4h-7.4zM133.6,490.6h7.4v7.4h-7.4zM134.1,483.5h7.4v7.4h-7.4zM134.6,478.8h7.4v7.4h-7.4zM135.1,475.4h7.4v7.4h-7.4zM135.6,472.2h7.4v7.4h-7.4zM136.1,467.6h7.4v7.4h-7.4zM136.6,458.1h7.4v7.4h-7.4zM137.1,471.0h7.4v7.4h-7.4zM137.6,442.5h7.4v7.4h-7.4zM138.1,433.5h7.4v7.4h-7.4zM138.6,448.3h7.4v7.4h-7.4zM139.1,446.2h7.4v7.4h-7.4zM139.6,448.3h7.4v7.4h-7.4zM140.8,443.5h7.4v7.4h-7.4zM142.0,443.0h7.4v7.4h-7.4zM143.2,445.4h7.4v7.4h-7.4zM144.4,448.2h7.4v7.4h-7.4zM145.6,438.1h7.4v7.4h-7.4zM146.8,436.7h7.4v7.4h-7.4zM148.0,449.5h7.4v7.4h-7.4zM149.2,439.2h7.4v7.4h-7.4zM150.4,433.5h7.4v7.4h-7.4zM150.9,442.4h7.4v7.4h-7.4zM151.4,443.1h7.4v7.4h-7.4zM151.9,454.8h7.4v7.4h-7.4zM152.4,465.1h7.4v7.4h-7.4zM152.9,477.0h7.4v7.4h-7.4zM153.4,481.6h7.4v7.4h-7.4zM153.9,486.5h7.4v7.4h-7.4zM154.4,490.2h7.4v7.4h-7.4zM154.9,495.7h7.4v7.4h-7.4zM155.4,501.6h7.4v7.4h-7.4zM155.9,500.9h7.4v7.4h-7.4zM156.4,501.4h7.4v7.4h-7.4zM156.9,508.1h7.4v7.4h-7.4zM157.4,509.4h7.4v7.4h-7.4zM157.9,513.4h7.4v7.4h-7.4zM158.4,516.6h7.4v7.4h-7.4zM158.9,516.9h7.4v7.4h-7.4zM159.4,521.2h7.4v7.4h-7.4zM159.9,525.8h7.4v7.4h-7.4zM160.4,528.1h7.4v7.4h-7.4zM160.9,534.8h7.4v7.4h-7.4zM161.4,539.6h7.4v7.4h-7.4zM161.9,541.3h7.4v7.4h-7.4zM162.4,544.3h7.4v7.4h-7.4zM162.9,547.9h7.4v7.4h-7.4zM163.4,550.8h7.4v7.4h-7.4zM163.9,554.4h7.4v7.4h-7.4zM164.4,558.4h7.4v7.4h-7.4zM164.9,561.1h7.4v7.4h-7.4zM165.4,565.0h7.4v7.4h-7.4zM165.9,568.7h7.4v7.4h-7.4zM166.4,576.6h7.4v7.4h-7.4zM166.9,581.0h7.4v7.4h-7.4zM167.4,583.4h7.4v7.4h-7.4zM167.9,585.9h7.4v7.4h-7.4zM168.4,592.1h7.4v7.4h-7.4zM168.9,597.2h7.4v7.4h-7.4zM169.4,599.5h7.4v7.4h-7.4zM169.9,603.9h7.4v7.4h-7.4zM170.4,607.5h7.4v7.4h-7.4zM170.9,611.9h7.4v7.4h-7.4zM171.4,613.9h7.4v7.4h-7.4zM171.9,618.7h7.4v7.4h-7.4zM172.4,620.4h7.4v7.4h-7.4zM172.9,623.5h7.4v7.4h-7.4zM173.4,625.1h7.4v7.4h-7.4zM173.9,627.2h7.4v7.4h-7.4zM174.4,628.6h7.4v7.4h-7.4zM174.9,631.1h7.4v7.4h-7.4zM175.4,632.7h7.4v7.4h-7.4zM175.9,634.5h7.4v7.4h-7.4zM176.4,635.6h7.4v7.4h-7.4zM176.9,636.3h7.4v7.4h-7.4zM177.4,638.2h7.4v7.4h-7.4zM177.9,639.8h7.4v7.4h-7.4zM178.4,640.4h7.4v7.4h-7.4zM178.9,641.1h7.4v7.4h-7.4zM179.4,641.9h7.4v7.4h-7.4zM179.9,643.3h7.4v7.4h-7.4zM180.4,644.0h7.4v7.4h-7.4zM180.9,644.1h7.4v7.4h-7.4zM181.4,645.5h7.4v7.4h-7.4zM181.9,645.9h7.4v7.4h-7.4zM183.1,647.1h7.4v7.4h-7.4zM184.3,648.9h7.4v7.4h-7.4zM185.5,649.7h7.4v7.4h-7.4zM186.7,650.0h7.4v7.4h-7.4zM187.9,651.0h7.4v7.4h-7.4zM189.1,651.6h7.4v7.4h-7.4zM190.3,651.6h7.4v7.4h-7.4zM191.5,652.3h7.4v7.4h-7.4zM192.7,653.0h7.4v7.4h-7.4zM193.9,652.5h7.4v7.4h-7.4zM195.1,653.6h7.4v7.4h-7.4zM196.3,654.0h7.4v7.4h-7.4zM197.5,654.1h7.4v7.4h-7.4zM198.7,653.7h7.4v7.4h-7.4zM199.9,654.5h7.4v7.4h-7.4zM201.1,654.4h7.4v7.4h-7.4zM202.3,655.1h7.4v7.4h-7.4zM203.5,655.3h7.4v7.4h-7.4zM204.7,655.3h7.4v7.4h-7.4zM205.9,655.0h7.4v7.4h-7.4zM207.1,655.2h7.4v7.4h-7.4zM208.3,655.8h7.4v7.4h-7.4zM209.5,655.3h7.4v7.4h-7.4zM210.7,655.8h7.4v7.4h-7.4zM211.9,655.9h7.4v7.4h-7.4zM213.1,655.8h7.4v7.4h-7.4zM214.3,656.7h7.4v7.4h-7.4zM215.5,656.1h7.4v7.4h-7.4zM216.7,656.8h7.4v7.4h-7.4zM217.9,655.5h7.4v7.4h-7.4zM219.1,655.4h7.4v7.4h-7.4zM220.3,656.5h7.4v7.4h-7.4zM221.5,656.4h7.4v7.4h-7.4zM222.7,656.1h7.4v7.4h-7.4zM223.9,656.3h7.4v7.4h-7.4zM225.1,655.7h7.4v7.4h-7.4zM226.3,656.1h7.4v7.4h-7.4zM227.5,656.0h7.4v7.4h-7.4zM228.7,656.3h7.4v7.4h-7.4zM229.9,656.7h7.4v7.4h-7.4zM231.1,656.5h7.4v7.4h-7.4zM232.3,656.6h7.4v7.4h-7.4zM233.5,656.3h7.4v7.4h-7.4zM234.7,656.4h7.4v7.4h-7.4zM235.9,656.6h7.4v7.4h-7.4zM237.1,656.5h7.4v7.4h-7.4zM238.3,657.0h7.4v7.4h-7.4zM239.5,656.4h7.4v7.4h-7.4zM240.7,657.3h7.4v7.4h-7.4zM241.9,656.4h7.4v7.4h-7.4zM243.1,657.1h7.4v7.4h-7.4zM244.3,656.5h7.4v7.4h-7.4zM245.5,657.3h7.4v7.4h-7.4zM246.7,656.8h7.4v7.4h-7.4zM247.9,656.9h7.4v7.4h-7.4zM249.1,657.0h7.4v7.4h-7.4zM250.3,656.6h7.4v7.4h-7.4zM251.5,656.5h7.4v7.4h-7.4zM252.7,656.2h7.4v7.4h-7.4zM253.9,657.2h7.4v7.4h-7.4zM255.1,656.6h7.4v7.4h-7.4zM256.3,656.6h7.4v7.4h-7.4zM257.5,656.8h7.4v7.4h-7.4zM258.7,657.5h7.4v7.4h-7.4zM259.9,656.3h7.4v7.4h-7.4zM261.1,656.9h7.4v7.4h-7.4zM262.3,656.7h7.4v7.4h-7.4zM263.5,657.0h7.4v7.4h-7.4zM264.7,656.3h7.4v7.4h-7.4zM265.9,656.7h7.4v7.4h-7.4zM267.1,657.1h7.4v7.4h-7.4zM268.3,657.4h7.4v7.4h-7.4zM269.5,657.4h7.4v7.4h-7.4zM270.7,656.6h7.4v7.4h-7.4zM271.9,656.9h7.4v7.4h-7.4zM273.1,656.8h7.4v7.4h-7.4zM274.3,656.4h7.4v7.4h-7.4zM275.5,656.4h7.4v7.4h-7.4zM276.7,657.1h7.4v7.4h-7.4zM277.9,657.0h7.4v7.4h-7.4zM279.1,656.8h7.4v7.4h-7.4zM280.3,657.3h7.4v7.4h-7.4zM281.5,656.6h7.4v7.4h-7.4zM282.7,657.1h7.4v7.4h-7.4zM283.9,656.9h7.4v7.4h-7.4zM285.1,656.9h7.4v7.4h-7.4zM286.3,657.0h7.4v7.4h-7.4zM287.5,657.0h7.4v7.4h-7.4zM288.7,657.0h7.4v7.4h-7.4zM289.9,657.0h7.4v7.4h-7.4zM291.1,657.5h7.4v7.4h-7.4zM292.3,656.8h7.4v7.4h-7.4zM293.5,657.2h7.4v7.4h-7.4zM294.7,657.1h7.4v7.4h-7.4zM295.9,656.8h7.4v7.4h-7.4zM297.1,657.2h7.4v7.4h-7.4zM298.3,656.6h7.4v7.4h-7.4zM299.5,657.3h7.4v7.4h-7.4zM300.7,656.7h7.4v7.4h-7.4zM301.9,656.8h7.4v7.4h-7.4zM303.1,657.0h7.4v7.4h-7.4zM304.3,657.2h7.4v7.4h-7.4zM305.5,657.2h7.4v7.4h-7.4zM306.7,657.2h7.4v7.4h-7.4zM307.9,656.9h7.4v7.4h-7.4zM309.1,656.6h7.4v7.4h-7.4zM310.3,657.1h7.4v7.4h-7.4zM311.5,657.0h7.4v7.4h-7.4zM312.7,656.6h7.4v7.4h-7.4zM313.9,657.3h7.4v7.4h-7.4zM315.1,657.0h7.4v7.4h-7.4zM316.3,656.7h7.4v7.4h-7.4zM317.5,657.1h7.4v7.4h-7.4zM318.7,656.5h7.4v7.4h-7.4zM319.9,656.7h7.4v7.4h-7.4zM321.1,657.1h7.4v7.4h-7.4zM322.3,656.5h7.4v7.4h-7.4zM323.5,657.0h7.4v7.4h-7.4zM324.7,656.6h7.4v7.4h-7.4zM325.9,657.2h7.4v7.4h-7.4zM327.1,656.8h7.4v7.4h-7.4zM328.3,657.0h7.4v7.4h-7.4zM329.5,656.5h7.4v7.4h-7.4zM330.7,656.9h7.4v7.4h-7.4zM331.9,657.3h7.4v7.4h-7.4zM333.1,657.1h7.4v7.4h-7.4zM334.3,656.4h7.4v7.4h-7.4zM335.5,657.3h7.4v7.4h-7.4zM336.7,657.3h7.4v7.4h-7.4zM337.9,656.9h7.4v7.4h-7.4zM339.1,657.5h7.4v7.4h-7.4zM340.3,656.7h7.4v7.4h-7.4zM341.5,657.0h7.4v7.4h-7.4zM342.7,657.4h7.4v7.4h-7.4zM343.9,657.4h7.4v7.4h-7.4zM345.1,657.4h7.4v7.4h-7.4zM346.3,656.7h7.4v7.4h-7.4zM347.5,656.5h7.4v7.4h-7.4zM348.7,657.2h7.4v7.4h-7.4zM349.9,656.6h7.4v7.4h-7.4zM351.1,657.0h7.4v7.4h-7.4zM352.3,656.6h7.4v7.4h-7.4zM353.5,657.4h7.4v7.4h-7.4zM354.7,657.3h7.4v7.4h-7.4zM355.9,657.2h7.4v7.4h-7.4zM357.1,657.1h7.4v7.4h-7.4zM358.3,657.1h7.4v7.4h-7.4zM359.5,657.0h7.4v7.4h-7.4zM360.7,657.2h7.4v7.4h-7.4zM361.9,657.1h7.4v7.4h-7.4zM363.1,657.2h7.4v7.4h-7.4zM364.3,656.9h7.4v7.4h-7.4zM365.5,657.7h7.4v7.4h-7.4zM366.7,657.2h7.4v7.4h-7.4zM367.9,657.5h7.4v7.4h-7.4zM369.1,657.5h7.4v7.4h-7.4zM370.3,656.8h7.4v7.4h-7.4zM371.5,656.6h7.4v7.4h-7.4zM372.7,657.5h7.4v7.4h-7.4zM373.9,657.0h7.4v7.4h-7.4zM375.1,657.1h7.4v7.4h-7.4zM376.3,657.0h7.4v7.4h-7.4zM377.5,657.1h7.4v7.4h-7.4zM378.7,656.7h7.4v7.4h-7.4zM379.9,657.1h7.4v7.4h-7.4zM381.1,657.0h7.4v7.4h-7.4zM382.3,657.1h7.4v7.4h-7.4zM383.5,656.4h7.4v7.4h-7.4zM384.7,657.4h7.4v7.4h-7.4zM385.9,657.2h7.4v7.4h-7.4zM387.1,656.6h7.4v7.4h-7.4zM388.3,656.9h7.4v7.4h-7.4zM389.5,657.1h7.4v7.4h-7.4zM390.7,657.3h7.4v7.4h-7.4zM391.9,657.1h7.4v7.4h-7.4zM393.1,657.6h7.4v7.4h-7.4zM394.3,657.1h7.4v7.4h-7.4zM395.5,656.8h7.4v7.4h-7.4zM396.7,656.9h7.4v7.4h-7.4zM397.9,657.4h7.4v7.4h-7.4zM399.1,657.0h7.4v7.4h-7.4zM400.3,657.4h7.4v7.4h-7.4zM401.5,657.5h7.4v7.4h-7.4zM402.7,657.3h7.4v7.4h-7.4zM403.9,657.5h7.4v7.4h-7.4zM405.1,657.1h7.4v7.4h-7.4zM406.3,657.2h7.4v7.4h-7.4zM407.5,657.0h7.4v7.4h-7.4zM408.7,657.0h7.4v7.4h-7.4zM409.9,656.7h7.4v7.4h-7.4zM411.1,657.0h7.4v7.4h-7.4zM412.3,656.8h7.4v7.4h-7.4zM413.5,656.7h7.4v7.4h-7.4zM414.7,657.2h7.4v7.4h-7.4zM415.9,657.3h7.4v7.4h-7.4zM417.1,657.1h7.4v7.4h-7.4zM418.3,657.6h7.4v7.4h-7.4zM419.5,657.5h7.4v7.4h-7.4zM420.7,657.5h7.4v7.4h-7.4zM421.9,657.0h7.4v7.4h-7.4zM423.1,656.7h7.4v7.4h-7.4zM424.3,657.4h7.4v7.4h-7.4zM425.5,657.3h7.4v7.4h-7.4zM426.7,657.4h7.4v7.4h-7.4zM427.9,657.4h7.4v7.4h-7.4zM429.1,657.6h7.4v7.4h-7.4zM430.3,657.1h7.4v7.4h-7.4zM431.5,657.4h7.4v7.4h-7.4zM432.7,656.9h7.4v7.4h-7.4zM433.9,656.5h7.4v7.4h-7.4zM435.1,657.1h7.4v7.4h-7.4zM436.3,657.7h7.4v7.4h-7.4zM437.5,656.7h7.4v7.4h-7.4zM438.7,657.6h7.4v7.4h-7.4zM439.9,657.0h7.4v7.4h-7.4zM441.1,657.1h7.4v7.4h-7.4zM442.3,657.3h7.4v7.4h-7.4zM443.5,657.3h7.4v7.4h-7.4zM444.7,657.0h7.4v7.4h-7.4zM445.9,657.3h7.4v7.4h-7.4zM447.1,657.4h7.4v7.4h-7.4zM448.3,657.5h7.4v7.4h-7.4zM449.5,657.0h7.4v7.4h-7.4zM450.7,657.8h7.4v7.4h-7.4zM451.9,657.9h7.4v7.4h-7.4zM453.1,658.0h7.4v7.4h-7.4zM454.3,656.9h7.4v7.4h-7.4zM455.5,657.3h7.4v7.4h-7.4zM456.7,656.7h7.4v7.4h-7.4zM457.9,657.4h7.4v7.4h-7.4zM459.1,657.5h7.4v7.4h-7.4zM460.3,656.9h7.4v7.4h-7.4zM461.5,656.8h7.4v7.4h-7.4zM462.7,657.4h7.4v7.4h-7.4z" fill="#000"/>
<path d="M79.2,660.9a4.8,4.8 0 1,0 9.6,0a4.8,4.8 0 1,0 -9.6,0M80.4,660.5a4.8,4.8 0 1,0 9.6,0a4.8,4.8 0 1,0 -9.6,0M81.6,660.6a4.8,4.8 0 1,0 9.6,0a4.8,4.8 0 1,0 -9.6,0M82.8,660.0a4.8,4.8 0 1,0 9.6,0a4.8,4.8 0 1,0 -9.6,0M84.0,660.5a4.8,4.8 0 1,0 9.6,0a4.8,4.8 0 1,0 -9.6,0M85.2,660.7a4.8,4.8 0 1,0 9.6,0a4.8,4.8 0 1,0 -9.6,0M86.4,660.7a4.8,4.8 0 1,0 9.6,0a4.8,4.8 0 1,0 -9.6,0M87.6,661.0a4.8,4.8 0 1,0 9.6,0a4.8,4.8 0 1,0 -9.6,0M88.8,660.3a4.8,4.8 0 1,0 9.6,0a4.8,4.8 0 1,0 -9.6,0M90.0,660.0a4.8,4.8 0 1,0 9.6,0a4.8,4.8 0 1,0 -9.6,0M91.2,660.7a4.8,4.8 0 1,0 9.6,0a4.8,4.8 0 1,0 -9.6,0M92.4,660.4a4.8,4.8 0 1,0 9.6,0a4.8,4.8 0 1,0 -9.6,0M93.6,660.6a4.8,4.8 0 1,0 9.6,0a4.8,4.8 0 1,0 -9.6,0M94.8,660.7a4.8,4.8 0 1,0 9.6,0a4.8,4.8 0 1,0 -9.6,0M96.0,660.6a4.8,4.8 0 1,0 9.6,0a4.8,4.8 0 1,0 -9.6,0M97.2,660.8a4.8,4.8 0 1,0 9.6,0a4.8,4.8 0 1,0 -9.6,0M98.4,660.8a4.8,4.8 0 1,0 9.6,0a4.8,4.8 0 1,0 -9.6,0M99.6,659.9a4.8,4.8 0 1,0 9.6,0a4.8,4.8 0 1,0 -9.6,0M100.8,660.3a4.8,4.8 0 1,0 9.6,0a4.8,4.8 0 1,0 -9.6,0M102.0,660.8a4.8,4.8 0 1,0 9.6,0a4.8,4.8 0 1,0 -9.6,0M103.2,660.1a4.8,4.8 0 1,0 9.6,0a4.8,4.8 0 1,0 -9.6,0M104.4,660.5a4.8,4.8 0 1,0 9.6,0a4.8,4.8 0 1,0 -9.6,0M105.6,660.1a4.8,4.8 0 1,0 9.6,0a4.8,4.8 0 1,0 -9.6,0M106.8,660.0a4.8,4.8 0 1,0 9.6,0a4.8,4.8 0 1,0 -9.6,0M108.0,660.5a4.8,4.8 0 1,0 9.6,0a4.8,4.8 0 1,0 -9.6,0M109.2,660.3a4.8,4.8 0 1,0 9.6,0a4.8,4.8 0 1,0 -9.6,0M110.4,659.9a4.8,4.8 0 1,0 9.6,0a4.8,4.8 0 1,0 -9.6,0M111.6,660.0a4.8,4.8 0 1,0 9.6,0a4.8,4.8 0 1,0 -9.6,0M112.8,659.2a4.8,4.8 0 1,0 9.6,0a4.8,4.8 0 1,0 -9.6,0M114.0,659.2a4.8,4.8 0 1,0 9.6,0a4.8,4.8 0 1,0 -9.6,0M115.2,659.5a4.8,4.8 0 1,0 9.6,0a4.8,4.8 0 1,0 -9.6,0M116.4,659.1a4.8,4.8 0 1,0 9.6,0a4.8,4.8 0 1,0 -9.6,0M117.6,658.5a4.8,4.8 0 1,0 9.6,0a4.8,4.8 0 1,0 -9.6,0M118.8,658.6a4.8,4.8 0 1,0 9.6,0a4.8,4.8 0 1,0 -9.6,0M120.0,658.3a4.8,4.8 0 1,0 9.6,0a4.8,4.8 0 1,0 -9.6,0M121.2,658.3a4.8,4.8 0 1,0 9.6,0a4.8,4.8 0 1,0 -9.6,0M122.4,658.0a4.8,4.8 0 1,0 9.6,0a4.8,4.8 0 1,0 -9.6,0M123.6,657.2a4.8,4.8 0 1,0 9.6,0a4.8,4.8 0 1,0 -9.6,0M124.8,656.4a4.8,4.8 0 1,0 9.6,0a4.8,4.8 0 1,0 -9.6,0M126.0,655.8a4.8,4.8 0 1,0 9.6,0a4.8,4.8 0 1,0 -9.6,0M127.2,655.0a4.8,4.8 0 1,0 9.6,0a4.8,4.8 0 1,0 -9.6,0M128.4,654.7a4.8,4.8 0 1,0 9.6,0a4.8,4.8 0 1,0 -9.6,0M129.6,653.4a4.8,4.8 0 1,0 9.6,0a4.8,4.8 0 1,0 -9.6,0M130.8,651.9a4.8,4.8 0 1,0 9.6,0a4.8,4.8 0 1,0 -9.6,0M132.0,649.9a4.8,4.8 0 1,0 9.6,0a4.8,4.8 0 1,0 -9.6,0M132.5,648.9a4.8,4.8 0 1,0 9.6,0a4.8,4.8 0 1,0 -9.6,0M133.0,648.5a4.8,4.8 0 1,0 9.6,0a4.8,4.8 0 1,0 -9.6,0M133.5,647.3a4.8,4.8 0 1,0 9.6,0a4.8,4.8 0 1,0 -9.6,0M134.0,646.5a4.8,4.8 0 1,0 9.6,0a4.8,4.8 0 1,0 -9.6,0M134.5,644.0a4.8,4.8 0 1,0 9.6,0a4.8,4.8 0 1,0 -9.6,0M135.0,642.7a4.8,4.8 0 1,0 9.6,0a4.8,4.8 0 1,0 -9.6,0M135.5,641.8a4.8,4.8 0 1,0 9.6,0a4.8,4.8 0 1,0 -9.6,0M136.0,638.9a4.8,4.8 0 1,0 9.6,0a4.8,4.8 0 1,0 -9.6,0M136.5,636.9a4.8,4.8 0 1,0 9.6,0a4.8,4.8 0 1,0 -9.6,0M137.0,635.6a4.8,4.8 0 1,0 9.6,0a4.8,4.8 0 1,0 -9.6,0M137.5,634.1a4.8,4.8 0 1,0 9.6,0a4.8,4.8 0 1,0 -9.6,0M138.0,631.6a4.8,4.8 0 1,0 9.6,0a4.8,4.8 0 1,0 -9.6,0M138.5,628.2a4.8,4.8 0 1,0 9.6,0a4.8,4.8 0 1,0 -9.6,0M139.0,625.7a4.8,4.8 0 1,0 9.6,0a4.8,4.8 0 1,0 -9.6,0M139.5,623.4a4.8,4.8 0 1,0 9.6,0a4.8,4.8 0 1,0 -9.6,0M140.0,620.1a4.8,4.8 0 1,0 9.6,0a4.8,4.8 0 1,0 -9.6,0M140.5,617.8a4.8,4.8 0 1,0 9.6,0a4.8,4.8 0 1,0 -9.6,0M141.0,614.7a4.8,4.8 0 1,0 9.6,0a4.8,4.8 0 1,0 -9.6,0M141.5,611.0a4.8,4.8 0 1,0 9.6,0a4.8,4.8 0 1,0 -9.6,0M142.0,608.7a4.8,4.8 0 1,0 9.6,0a4.8,4.8 0 1,0 -9.6,0M142.5,606.1a4.8,4.8 0 1,0 9.6,0a4.8,4.8 0 1,0 -9.6,0M143.0,602.7a4.8,4.8 0 1,0 9.6,0a4.8,4.8 0 1,0 -9.6,0M143.5,599.6a4.8,4.8 0 1,0 9.6,0a4.8,4.8 0 1,0 -9.6,0M144.0,598.4a4.8,4.8 0 1,0 9.6,0a4.8,4.8 0 1,0 -9.6,0M144.5,595.6a4.8,4.8 0 1,0 9.6,0a4.8,4.8 0 1,0 -9.6,0M145.0,589.6a4.8,4.8 0 1,0 9.6,0a4.8,4.8 0 1,0 -9.6,0M145.5,585.3a4.8,4.8 0 1,0 9.6,0a4.8,4.8 0 1,0 -9.6,0M146.0,581.8a4.8,4.8 0 1,0 9.6,0a4.8,4.8 0 1,0 -9.6,0M146.5,576.4a4.8,4.8 0 1,0 9.6,0a4.8,4.8 0 1,0 -9.6,0M147.0,571.1a4.8,4.8 0 1,0 9.6,0a4.8,4.8 0 1,0 -9.6,0M147.5,568.9a4.8,4.8 0 1,0 9.6,0a4.8,4.8 0 1,0 -9.6,0M148.0,561.8a4.8,4.8 0 1,0 9.6,0a4.8,4.8 0 1,0 -9.6,0M148.5,554.9a4.8,4.8 0 1,0 9.6,0a4.8,4.8 0 1,0 -9.6,0M149.0,548.2a4.8,4.8 0 1,0 9.6,0a4.8,4.8 0 1,0 -9.6,0M149.5,542.9a4.8,4.8 0 1,0 9.6,0a4.8,4.8 0 1,0 -9.6,0M150.0,538.7a4.8,4.8 0 1,0 9.6,0a4.8,4.8 0 1,0 -9.6,0M150.5,533.9a4.8,4.8 0 1,0 9.6,0a4.8,4.8 0 1,0 -9.6,0M151.0,528.7a4.8,4.8 0 1,0 9.6,0a4.8,4.8 0 1,0 -9.6,0M151.5,521.5a4.8,4.8 0 1,0 9.6,0a4.8,4.8 0 1,0 -9.6,0M152.0,514.7a4.8,4.8 0 1,0 9.6,0a4.8,4.8 0 1,0 -9.6,0M152.5,507.4a4.8,4.8 0 1,0 9.6,0a4.8,4.8 0 1,0 -9.6,0M153.0,506.5a4.8,4.8 0 1,0 9.6,0a4.8,4.8 0 1,0 -9.6,0M153.5,502.2a4.8,4.8 0 1,0 9.6,0a4.8,4.8 0 1,0 -9.6,0M154.0,500.8a4.8,4.8 0 1,0 9.6,0a4.8,4.8 0 1,0 -9.6,0M154.5,499.8a4.8,4.8 0 1,0 9.6,0a4.8,4.8 0 1,0 -9.6,0M155.0,493.9a4.8,4.8 0 1,0 9.6,0a4.8,4.8 0 1,0 -9.6,0M155.5,487.4a4.8,4.8 0 1,0 9.6,0a4.8,4.8 0 1,0 -9.6,0M156.0,480.6a4.8,4.8 0 1,0 9.6,0a4.8,4.8 0 1,0 -9.6,0M156.5,472.7a4.8,4.8 0 1,0 9.6,0a4.8,4.8 0 1,0 -9.6,0M157.0,468.0a4.8,4.8 0 1,0 9.6,0a4.8,4.8 0 1,0 -9.6,0M157.5,464.0a4.8,4.8 0 1,0 9.6,0a4.8,4.8 0 1,0 -9.6,0M158.0,462.8a4.8,4.8 0 1,0 9.6,0a4.8,4.8 0 1,0 -9.6,0M158.5,463.6a4.8,4.8 0 1,0 9.6,0a4.8,4.8 0 1,0 -9.6,0M159.0,457.2a4.8,4.8 0 1,0 9.6,0a4.8,4.8 0 1,0 -9.6,0M160.2,457.9a4.8,4.8 0 1,0 9.6,0a4.8,4.8 0 1,0 -9.6,0M161.4,454.7a4.8,4.8 0 1,0 9.6,0a4.8,4.8 0 1,0 -9.6,0M162.6,458.1a4.8,4.8 0 1,0 9.6,0a4.8,4.8 0 1,0 -9.6,0M163.1,454.8a4.8,4.8 0 1,0 9.6,0a4.8,4.8 0 1,0 -9.6,0M163.6,453.2a4.8,4.8 0 1,0 9.6,0a4.8,4.8 0 1,0 -9.6,0M164.1,451.5a4.8,4.8 0 1,0 9.6,0a4.8,4.8 0 1,0 -9.6,0M164.6,449.9a4.8,4.8 0 1,0 9.6,0a4.8,4.8 0 1,0 -9.6,0M165.1,448.0a4.8,4.8 0 1,0 9.6,0a4.8,4.8 0 1,0 -9.6,0M165.6,442.0a4.8,4.8 0 1,0 9.6,0a4.8,4.8 0 1,0 -9.6,0M166.1,444.0a4.8,4.8 0 1,0 9.6,0a4.8,4.8 0 1,0 -9.6,0M166.6,442.7a4.8,4.8 0 1,0 9.6,0a4.8,4.8 0 1,0 -9.6,0M167.1,438.0a4.8,4.8 0 1,0 9.6,0a4.8,4.8 0 1,0 -9.6,0M167.6,440.2a4.8,4.8 0 1,0 9.6,0a4.8,4.8 0 1,0 -9.6,0M168.1,438.4a4.8,4.8 0 1,0 9.6,0a4.8,4.8 0 1,0 -9.6,0M169.3,438.0a4.8,4.8 0 1,0 9.6,0a4.8,4.8 0 1,0 -9.6,0M170.5,438.6a4.8,4.8 0 1,0 9.6,0a4.8,4.8 0 1,0 -9.6,0M171.0,440.7a4.8,4.8 0 1,0 9.6,0a4.8,4.8 0 1,0 -9.6,0M171.5,442.2a4.8,4.8 0 1,0 9.6,0a4.8,4.8 0 1,0 -9.6,0M172.0,446.6a4.8,4.8 0 1,0 9.6,0a4.8,4.8 0 1,0 -9.6,0M172.5,445.3a4.8,4.8 0 1,0 9.6,0a4.8,4.8 0 1,0 -9.6,0M173.0,450.1a4.8,4.8 0 1,0 9.6,0a4.8,4.8 0 1,0 -9.6,0M173.5,453.7a4.8,4.8 0 1,0 9.6,0a4.8,4.8 0 1,0 -9.6,0M174.0,457.4a4.8,4.8 0 1,0 9.6,0a4.8,4.8 0 1,0 -9.6,0M174.5,458.6a4.8,4.8 0 1,0 9.6,0a4.8,4.8 0 1,0 -9.6,0M175.0,460.5a4.8,4.8 0 1,0 9.6,0a4.8,4.8 0 1,0 -9.6,0M175.5,464.9a4.8,4.8 0 1,0 9.6,0a4.8,4.8 0 1,0 -9.6,0M176.0,462.0a4.8,4.8 0 1,0 9.6,0a4.8,4.8 0 1,0 -9.6,0M176.5,471.4a4.8,4.8 0 1,0 9.6,0a4.8,4.8 0 1,0 -9.6,0M177.0,473.3a4.8,4.8 0 1,0 9.6,0a4.8,4.8 0 1,0 -9.6,0M177.5,475.9a4.8,4.8 0 1,0 9.6,0a4.8,4.8 0 1,0 -9.6,0M178.0,481.9a4.8,4.8 0 1,0 9.6,0a4.8,4.8 0 1,0 -9.6,0M178.5,483.8a4.8,4.8 0 1,0 9.6,0a4.8,4.8 0 1,0 -9.6,0M179.0,487.9a4.8,4.8 0 1,0 9.6,0a4.8,4.8 0 1,0 -9.6,0M179.5,495.3a4.8,4.8 0 1,0 9.6,0a4.8,4.8 0 1,0 -9.6,0M180.0,499.2a4.8,4.8 0 1,0 9.6,0a4.8,4.8 0 1,0 -9.6,0M180.5,506.2a4.8,4.8 0 1,0 9.6,0a4.8,4.8 0 1,0 -9.6,0M181.0,508.2a4.8,4.8 0 1,0 9.6,0a4.8,4.8 0 1,0 -9.6,0M181.5,512.2a4.8,4.8 0 1,0 9.6,0a4.8,4.8 0 1,0 -9.6,0M182.0,517.4a4.8,4.8 0 1,0 9.6,0a4.8,4.8 0 1,0 -9.6,0M182.5,526.2a4.8,4.8 0 1,0 9.6,0a4.8,4.8 0 1,0 -9.6,0M183.0,528.4a4.8,4.8 0 1,0 9.6,0a4.8,4.8 0 1,0 -9.6,0M183.5,532.3a4.8,4.8 0 1,0 9.6,0a4.8,4.8 0 1,0 -9.6,0M184.0,536.7a4.8,4.8 0 1,0 9.6,0a4.8,4.8 0 1,0 -9.6,0M184.5,541.6a4.8,4.8 0 1,0 9.6,0a4.8,4.8 0 1,0 -9.6,0M185.0,547.8a4.8,4.8 0 1,0 9.6,0a4.8,4.8 0 1,0 -9.6,0M185.5,553.5a4.8,4.8 0 1,0 9.6,0a4.8,4.8 0 1,0 -9.6,0M186.0,560.8a4.8,4.8 0 1,0 9.6,0a4.8,4.8 0 1,0 -9.6,0M186.5,568.3a4.8,4.8 0 1,0 9.6,0a4.8,4.8 0 1,0 -9.6,0M187.0,573.5a4.8,4.8 0 1,0 9.6,0a4.8,4.8 0 1,0 -9.6,0M187.5,578.0a4.8,4.8 0 1,0 9.6,0a4.8,4.8 0 1,0 -9.6,0M188.0,583.2a4.8,4.8 0 1,0 9.6,0a4.8,4.8 0 1,0 -9.6,0M188.5,587.1a4.8,4.8 0 1,0 9.6,0a4.8,4.8 0 1,0 -9.6,0M189.0,593.5a4.8,4.8 0 1,0 9.6,0a4.8,4.8 0 1,0 -9.6,0M189.5,598.6a4.8,4.8 0 1,0 9.6,0a4.8,4.8 0 1,0 -9.6,0M190.0,600.8a4.8,4.8 0 1,0 9.6,0a4.8,4.8 0 1,0 -9.6,0M190.5,604.2a4.8,4.8 0 1,0 9.6,0a4.8,4.8 0 1,0 -9.6,0M191.0,605.8a4.8,4.8 0 1,0 9.6,0a4.8,4.8 0 1,0 -9.6,0M191.5,610.3a4.8,4.8 0 1,0 9.6,0a4.8,4.8 0 1,0 -9.6,0M192.0,612.4a4.8,4.8 0 1,0 9.6,0a4.8,4.8 0 1,0 -9.6,0M192.5,614.7a4.8,4.8 0 1,0 9.6,0a4.8,4.8 0 1,0 -9.6,0M193.0,617.3a4.8,4.8 0 1,0 9.6,0a4.8,4.8 0 1,0 -9.6,0M193.5,618.1a4.8,4.8 0 1,0 9.6,0a4.8,4.8 0 1,0 -9.6,0M194.0,621.7a4.8,4.8 0 1,0 9.6,0a4.8,4.8 0 1,0 -9.6,0M194.5,623.4a4.8,4.8 0 1,0 9.6,0a4.8,4.8 0 1,0 -9.6,0M195.0,626.5a4.8,4.8 0 1,0 9.6,0a4.8,4.8 0 1,0 -9.6,0M195.5,626.9a4.8,4.8 0 1,0 9.6,0a4.8,4.8 0 1,0 -9.6,0M196.0,628.2a4.8,4.8 0 1,0 9.6,0a4.8,4.8 0 1,0 -9.6,0M196.5,630.5a4.8,4.8 0 1,0 9.6,0a4.8,4.8 0 1,0 -9.6,0M197.0,631.0a4.8,4.8 0 1,0 9.6,0a4.8,4.8 0 1,0 -9.6,0M197.5,633.9a4.8,4.8 0 1,0 9.6,0a4.8,4.8 0 1,0 -9.6,0M198.0,634.3a4.8,4.8 0 1,0 9.6,0a4.8,4.8 0 1,0 -9.6,0M198.5,636.2a4.8,4.8 0 1,0 9.6,0a4.8,4.8 0 1,0 -9.6,0M199.0,636.8a4.8,4.8 0 1,0 9.6,0a4.8,4.8 0 1,0 -9.6,0M199.5,638.7a4.8,4.8 0 1,0 9.6,0a4.8,4.8 0 1,0 -9.6,0M200.0,638.3a4.8,4.8 0 1,0 9.6,0a4.8,4.8 0 1,0 -9.6,0M200.5,640.7a4.8,4.8 0 1,0 9.6,0a4.8,4.8 0 1,0 -9.6,0M201.0,641.0a4.8,4.8 0 1,0 9.6,0a4.8,4.8 0 1,0 -9.6,0M201.5,642.5a4.8,4.8 0 1,0 9.6,0a4.8,4.8 0 1,0 -9.6,0M202.0,643.0a4.8,4.8 0 1,0 9.6,0a4.8,4.8 0 1,0 -9.6,0M202.5,644.6a4.8,4.8 0 1,0 9.6,0a4.8,4.8 0 1,0 -9.6,0M203.0,645.6a4.8,4.8 0 1,0 9.6,0a4.8,4.8 0 1,0 -9.6,0M203.5,646.8a4.8,4.8 0 1,0 9.6,0a4.8,4.8 0 1,0 -9.6,0M204.7,648.1a4.8,4.8 0 1,0 9.6,0a4.8,4.8 0 1,0 -9.6,0M205.9,649.4a4.8,4.8 0 1,0 9.6,0a4.8,4.8 0 1,0 -9.6,0M207.1,650.8a4.8,4.8 0 1,0 9.6,0a4.8,4.8 0 1,0 -9.6,0M208.3,651.5a4.8,4.8 0 1,0 9.6,0a4.8,4.8 0 1,0 -9.6,0M209.5,652.4a4.8,4.8 0 1,0 9.6,0a4.8,4.8 0 1,0 -9.6,0M210.7,653.3a4.8,4.8 0 1,0 9.6,0a4.8,4.8 0 1,0 -9.6,0M211.9,654.3a4.8,4.8 0 1,0 9.6,0a4.8,4.8 0 1,0 -9.6,0M213.1,654.4a4.8,4.8 0 1,0 9.6,0a4.8,4.8 0 1,0 -9.6,0M214.3,655.3a4.8,4.8 0 1,0 9.6,0a4.8,4.8 0 1,0 -9.6,0M215.5,655.4a4.8,4.8 0 1,0 9.6,0a4.8,4.8 0 1,0 -9.6,0M216.7,655.5a4.8,4.8 0 1,0 9.6,0a4.8,4.8 0 1,0 -9.6,0M217.9,656.5a4.8,4.8 0 1,0 9.6,0a4.8,4.8 0 1,0 -9.6,0M219.1,657.2a4.8,4.8 0 1,0 9.6,0a4.8,4.8 0 1,0 -9.6,0M220.3,657.0a4.8,4.8 0 1,0 9.6,0a4.8,4.8 0 1,0 -9.6,0M221.5,656.9a4.8,4.8 0 1,0 9.6,0a4.8,4.8 0 1,0 -9.6,0M222.7,657.1a4.8,4.8 0 1,0 9.6,0a4.8,4.8 0 1,0 -9.6,0M223.9,657.8a4.8,4.8 0 1,0 9.6,0a4.8,4.8 0 1,0 -9.6,0M225.1,657.5a4.8,4.8 0 1,0 9.6,0a4.8,4.8 0 1,0 -9.6,0M226.3,657.8a4.8,4.8 0 1,0 9.6,0a4.8,4.8 0 1,0 -9.6,0M227.5,658.3a4.8,4.8 0 1,0 9.6,0a4.8,4.8 0 1,0 -9.6,0M228.7,658.2a4.8,4.8 0 1,0 9.6,0a4.8,4.8 0 1,0 -9.6,0M229.9,658.5a4.8,4.8 0 1,0 9.6,0a4.8,4.8 0 1,0 -9.6,0M231.1,658.4a4.8,4.8 0 1,0 9.6,0a4.8,4.8 0 1,0 -9.6,0M232.3,658.6a4.8,4.8 0 1,0 9.6,0a4.8,4.8 0 1,0 -9.6,0M233.5,659.0a4.8,4.8 0 1,0 9.6,0a4.8,4.8 0 1,0 -9.6,0M234.7,659.2a4.8,4.8 0 1,0 9.6,0a4.8,4.8 0 1,0 -9.6,0M235.9,659.4a4.8,4.8 0 1,0 9.6,0a4.8,4.8 0 1,0 -9.6,0M237.1,659.2a4.8,4.8 0 1,0 9.6,0a4.8,4.8 0 1,0 -9.6,0M238.3,659.5a4.8,4.8 0 1,0 9.6,0a4.8,4.8 0 1,0 -9.6,0M239.5,659.6a4.8,4.8 0 1,0 9.6,0a4.8,4.8 0 1,0 -9.6,0M240.7,659.5a4.8,4.8 0 1,0 9.6,0a4.8,4.8 0 1,0 -9.6,0M241.9,659.7a4.8,4.8 0 1,0 9.6,0a4.8,4.8 0 1,0 -9.6,0M243.1,659.9a4.8,4.8 0 1,0 9.6,0a4.8,4.8 0 1,0 -9.6,0M244.3,659.8a4.8,4.8 0 1,0 9.6,0a4.8,4.8 0 1,0 -9.6,0M245.5,659.8a4.8,4.8 0 1,0 9.6,0a4.8,4.8 0 1,0 -9.6,0M246.7,659.6a4.8,4.8 0 1,0 9.6,0a4.8,4.8 0 1,0 -9.6,0M247.9,660.0a4.8,4.8 0 1,0 9.6,0a4.8,4.8 0 1,0 -9.6,0M249.1,659.9a4.8,4.8 0 1,0 9.6,0a4.8,4.8 0 1,0 -9.6,0M250.3,659.9a4.8,4.8 0 1,0 9.6,0a4.8,4.8 0 1,0 -9.6,0M251.5,659.9a4.8,4.8 0 1,0 9.6,0a4.8,4.8 0 1,0 -9.6,0M252.7,660.3a4.8,4.8 0 1,0 9.6,0a4.8,4.8 0 1,0 -9.6,0M253.9,660.9a4.8,4.8 0 1,0 9.6,0a4.8,4.8 0 1,0 -9.6,0M255.1,660.4a4.8,4.8 0 1,0 9.6,0a4.8,4.8 0 1,0 -9.6,0M256.3,660.3a4.8,4.8 0 1,0 9.6,0a4.8,4.8 0 1,0 -9.6,0M257.5,660.4a4.8,4.8 0 1,0 9.6,0a4.8,4.8 0 1,0 -9.6,0M258.7,660.2a4.8,4.8 0 1,0 9.6,0a4.8,4.8 0 1,0 -9.6,0M259.9,660.3a4.8,4.8 0 1,0 9.6,0a4.8,4.8 0 1,0 -9.6,0M261.1,660.1a4.8,4.8 0 1,0 9.6,0a4.8,4.8 0 1,0 -9.6,0M262.3,660.2a4.8,4.8 0 1,0 9.6,0a4.8,4.8 0 1,0 -9.6,0M263.5,660.4a4.8,4.8 0 1,0 9.6,0a4.8,4.8 0 1,0 -9.6,0M264.7,660.4a4.8,4.8 0 1,0 9.6,0a4.8,4.8 0 1,0 -9.6,0M265.9,660.3a4.8,4.8 0 1,0 9.6,0a4.8,4.8 0 1,0 -9.6,0M267.1,660.1a4.8,4.8 0 1,0 9.6,0a4.8,4.8 0 1,0 -9.6,0M268.3,660.4a4.8,4.8 0 1,0 9.6,0a4.8,4.8 0 1,0 -9.6,0M269.5,660.1a4.8,4.8 0 1,0 9.6,0a4.8,4.8 0 1,0 -9.6,0M270.7,660.6a4.8,4.8 0 1,0 9.6,0a4.8,4.8 0 1,0 -9.6,0M271.9,660.3a4.8,4.8 0 1,0 9.6,0a4.8,4.8 0 1,0 -9.6,0M273.1,660.4a4.8,4.8 0 1,0 9.6,0a4.8,4.8 0 1,0 -9.6,0M274.3,660.6a4.8,4.8 0 1,0 9.6,0a4.8,4.8 0 1,0 -9.6,0M275.5,660.5a4.8,4.8 0 1,0 9.6,0a4.8,4.8 0 1,0 -9.6,0M276.7,660.0a4.8,4.8 0 1,0 9.6,0a4.8,4.8 0 1,0 -9.6,0M277.9,660.3a4.8,4.8 0 1,0 9.6,0a4.8,4.8 0 1,0 -9.6,0M279.1,660.5a4.8,4.8 0 1,0 9.6,0a4.8,4.8 0 1,0 -9.6,0M280.3,660.1a4.8,4.8 0 1,0 9.6,0a4.8,4.8 0 1,0 -9.6,0M281.5,659.7a4.8,4.8 0 1,0 9.6,0a4.8,4.8 0 1,0 -9.6,0M282.7,660.4a4.8,4.8 0 1,0 9.6,0a4.8,4.8 0 1,0 -9.6,0M283.9,660.4a4.8,4.8 0 1,0 9.6,0a4.8,4.8 0 1,0 -9.6,0M285.1,660.5a4.8,4.8 0 1,0 9.6,0a4.8,4.8 0 1,0 -9.6,0M286.3,660.4a4.8,4.8 0 1,0 9.6,0a4.8,4.8 0 1,0 -9.6,0M287.5,660.4a4.8,4.8 0 1,0 9.6,0a4.8,4.8 0 1,0 -9.6,0M288.7,660.5a4.8,4.8 0 1,0 9.6,0a4.8,4.8 0 1,0 -9.6,0M289.9,660.8a4.8,4.8 0 1,0 9.6,0a4.8,4.8 0 1,0 -9.6,0M291.1,660.6a4.8,4.8 0 1,0 9.6,0a4.8,4.8 0 1,0 -9.6,0M292.3,660.6a4.8,4.8 0 1,0 9.6,0a4.8,4.8 0 1,0 -9.6,0M293.5,660.3a4.8,4.8 0 1,0 9.6,0a4.8,4.8 0 1,0 -9.6,0M294.7,660.7a4.8,4.8 0 1,0 9.6,0a4.8,4.8 0 1,0 -9.6,0M295.9,660.4a4.8,4.8 0 1,0 9.6,0a4.8,4.8 0 1,0 -9.6,0M297.1,660.6a4.8,4.8 0 1,0 9.6,0a4.8,4.8 0 1,0 -9.6,0M298.3,659.9a4.8,4.8 0 1,0 9.6,0a4.8,4.8 0 1,0 -9.6,0M299.5,660.5a4.8,4.8 0 1,0 9.6,0a4.8,4.8 0 1,0 -9.6,0M300.7,660.4a4.8,4.8 0 1,0 9.6,0a4.8,4.8 0 1,0 -9.6,0M301.9,660.3a4.8,4.8 0 1,0 9.6,0a4.8,4.8 0 1,0 -9.6,0M303.1,660.8a4.8,4.8 0 1,0 9.6,0a4.8,4.8 0 1,0 -9.6,0M304.3,660.6a4.8,4.8 0 1,0 9.6,0a4.8,4.8 0 1,0 -9.6,0M305.5,660.4a4.8,4.8 0 1,0 9.6,0a4.8,4.8 0 1,0 -9.6,0M306.7,660.3a4.8,4.8 0 1,0 9.6,0a4.8,4.8 0 1,0 -9.6,0M307.9,661.0a4.8,4.8 0 1,0 9.6,0a4.8,4.8 0 1,0 -9.6,0M309.1,660.7a4.8,4.8 0 1,0 9.6,0a4.8,4.8 0 1,0 -9.6,0M310.3,660.7a4.8,4.8 0 1,0 9.6,0a4.8,4.8 0 1,0 -9.6,0M311.5,660.3a4.8,4.8 0 1,0 9.6,0a4.8,4.8 0 1,0 -9.6,0M312.7,660.8a4.8,4.8 0 1,0 9.6,0a4.8,4.8 0 1,0 -9.6,0M313.9,660.6a4.8,4.8 0 1,0 9.6,0a4.8,4.8 0 1,0 -9.6,0M315.1,660.4a4.8,4.8 0 1,0 9.6,0a4.8,4.8 0 1,0 -9.6,0M316.3,660.5a4.8,4.8 0 1,0 9.6,0a4.8,4.8 0 1,0 -9.6,0M317.5,660.1a4.8,4.8 0 1,0 9.6,0a4.8,4.8 0 1,0 -9.6,0M318.7,660.7a4.8,4.8 0 1,0 9.6,0a4.8,4.8 0 1,0 -9.6,0M319.9,660.2a4.8,4.8 0 1,0 9.6,0a4.8,4.8 0 1,0 -9.6,0M321.1,660.7a4.8,4.8 0 1,0 9.6,0a4.8,4.8 0 1,0 -9.6,0M322.3,660.4a4.8,4.8 0 1,0 9.6,0a4.8,4.8 0 1,0 -9.6,0M323.5,660.4a4.8,4.8 0 1,0 9.6,0a4.8,4.8 0 1,0 -9.6,0M324.7,660.6a4.8,4.8 0 1,0 9.6,0a4.8,4.8 0 1,0 -9.6,0M325.9,660.6a4.8,4.8 0 1,0 9.6,0a4.8,4.8 0 1,0 -9.6,0M327.1,660.2a4.8,4.8 0 1,0 9.6,0a4.8,4.8 0 1,0 -9.6,0M328.3,660.5a4.8,4.8 0 1,0 9.6,0a4.8,4.8 0 1,0 -9.6,0M329.5,660.7a4.8,4.8 0 1,0 9.6,0a4.8,4.8 0 1,0 -9.6,0M330.7,660.5a4.8,4.8 0 1,0 9.6,0a4.8,4.8 0 1,0 -9.6,0M331.9,660.2a4.8,4.8 0 1,0 9.6,0a4.8,4.8 0 1,0 -9.6,0M333.1,660.5a4.8,4.8 0 1,0 9.6,0a4.8,4.8 0 1,0 -9.6,0M334.3,660.3a4.8,4.8 0 1,0 9.6,0a4.8,4.8 0 1,0 -9.6,0M335.5,660.4a4.8,4.8 0 1,0 9.6,0a4.8,4.8 0 1,0 -9.6,0M336.7,660.6a4.8,4.8 0 1,0 9.6,0a4.8,4.8 0 1,0 -9.6,0M337.9,660.6a4.8,4.8 0 1,0 9.6,0a4.8,4.8 0 1,0 -9.6,0M339.1,660.5a4.8,4.8 0 1,0 9.6,0a4.8,4.8 0 1,0 -9.6,0M340.3,660.2a4.8,4.8 0 1,0 9.6,0a4.8,4.8 0 1,0 -9.6,0M341.5,660.7a4.8,4.8 0 1,0 9.6,0a4.8,4.8 0 1,0 -9.6,0M342.7,660.5a4.8,4.8 0 1,0 9.6,0a4.8,4.8 0 1,0 -9.6,0M343.9,660.5a4.8,4.8 0 1,0 9.6,0a4.8,4.8 0 1,0 -9.6,0M345.1,660.6a4.8,4.8 0 1,0 9.6,0a4.8,4.8 0 1,0 -9.6,0M346.3,661.1a4.8,4.8 0 1,0 9.6,0a4.8,4.8 0 1,0 -9.6,0M347.5,660.3a4.8,4.8 0 1,0 9.6,0a4.8,4.8 0 1,0 -9.6,0M348.7,660.2a4.8,4.8 0 1,0 9.6,0a4.8,4.8 0 1,0 -9.6,0M349.9,660.8a4.8,4.8 0 1,0 9.6,0a4.8,4.8 0 1,0 -9.6,0M351.1,660.4a4.8,4.8 0 1,0 9.6,0a4.8,4.8 0 1,0 -9.6,0M352.3,661.0a4.8,4.8 0 1,0 9.6,0a4.8,4.8 0 1,0 -9.6,0M353.5,660.4a4.8,4.8 0 1,0 9.6,0a4.8,4.8 0 1,0 -9.6,0M354.7,660.5a4.8,4.8 0 1,0 9.6,0a4.8,4.8 0 1,0 -9.6,0M355.9,660.9a4.8,4.8 0 1,0 9.6,0a4.8,4.8 0 1,0 -9.6,0M357.1,660.9a4.8,4.8 0 1,0 9.6,0a4.8,4.8 0 1,0 -9.6,0M358.3,660.8a4.8,4.8 0 1,0 9.6,0a4.8,4.8 0 1,0 -9.6,0M359.5,660.8a4.8,4.8 0 1,0 9.6,0a4.8,4.8 0 1,0 -9.6,0M360.7,660.6a4.8,4.8 0 1,0 9.6,0a4.8,4.8 0 1,0 -9.6,0M361.9,660.5a4.8,4.8 0 1,0 9.6,0a4.8,4.8 0 1,0 -9.6,0M363.1,660.6a4.8,4.8 0 1,0 9.6,0a4.8,4.8 0 1,0 -9.6,0M364.3,661.0a4.8,4.8 0 1,0 9.6,0a4.8,4.8 0 1,0 -9.6,0M365.5,660.9a4.8,4.8 0 1,0 9.6,0a4.8,4.8 0 1,0 -9.6,0M366.7,660.7a4.8,4.8 0 1,0 9.6,0a4.8,4.8 0 1,0 -9.6,0M367.9,660.8a4.8,4.8 0 1,0 9.6,0a4.8,4.8 0 1,0 -9.6,0M369.1,660.9a4.8,4.8 0 1,0 9.6,0a4.8,4.8 0 1,0 -9.6,0M370.3,661.0a4.8,4.8 0 1,0 9.6,0a4.8,4.8 0 1,0 -9.6,0M371.5,660.7a4.8,4.8 0 1,0 9.6,0a4.8,4.8 0 1,0 -9.6,0M372.7,660.7a4.8,4.8 0 1,0 9.6,0a4.8,4.8 0 1,0 -9.6,0M373.9,660.8a4.8,4.8 0 1,0 9.6,0a4.8,4.8 0 1,0 -9.6,0M375.1,661.4a4.8,4.8 0 1,0 9.6,0a4.8,4.8 0 1,0 -9.6,0M376.3,660.8a4.8,4.8 0 1,0 9.6,0a4.8,4.8 0 1,0 -9.6,0M377.5,661.1a4.8,4.8 0 1,0 9.6,0a4.8,4.8 0 1,0 -9.6,0M378.7,660.3a4.8,4.8 0 1,0 9.6,0a4.8,4.8 0 1,0 -9.6,0M379.9,660.9a4.8,4.8 0 1,0 9.6,0a4.8,4.8 0 1,0 -9.6,0M381.1,660.4a4.8,4.8 0 1,0 9.6,0a4.8,4.8 0 1,0 -9.6,0M382.3,660.4a4.8,4.8 0 1,0 9.6,0a4.8,4.8 0 1,0 -9.6,0M383.5,660.6a4.8,4.8 0 1,0 9.6,0a4.8,4.8 0 1,0 -9.6,0M384.7,660.7a4.8,4.8 0 1,0 9.6,0a4.8,4.8 0 1,0 -9.6,0M385.9,660.8a4.8,4.8 0 1,0 9.6,0a4.8,4.8 0 1,0 -9.6,0M387.1,660.8a4.8,4.8 0 1,0 9.6,0a4.8,4.8 0 1,0 -9.6,0M388.3,660.8a4.8,4.8 0 1,0 9.6,0a4.8,4.8 0 1,0 -9.6,0M389.5,660.6a4.8,4.8 0 1,0 9.6,0a4.8,4.8 0 1,0 -9.6,0M390.7,661.4a4.8,4.8 0 1,0 9.6,0a4.8,4.8 0 1,0 -9.6,0M391.9,660.9a4.8,4.8 0 1,0 9.6,0a4.8,4.8 0 1,0 -9.6,0M393.1,660.9a4.8,4.8 0 1,0 9.6,0a4.8,4.8 0 1,0 -9.6,0M394.3,661.3a4.8,4.8 0 1,0 9.6,0a4.8,4.8 0 1,0 -9.6,0M395.5,661.0a4.8,4.8 0 1,0 9.6,0a4.8,4.8 0 1,0 -9.6,0M396.7,660.9a4.8,4.8 0 1,0 9.6,0a4.8,4.8 0 1,0 -9.6,0M397.9,660.9a4.8,4.8 0 1,0 9.6,0a4.8,4.8 0 1,0 -9.6,0M399.1,661.3a4.8,4.8 0 1,0 9.6,0a4.8,4.8 0 1,0 -9.6,0M400.3,660.5a4.8,4.8 0 1,0 9.6,0a4.8,4.8 0 1,0 -9.6,0M401.5,660.5a4.8,4.8 0 1,0 9.6,0a4.8,4.8 0 1,0 -9.6,0M402.7,660.8a4.8,4.8 0 1,0 9.6,0a4.8,4.8 0 1,0 -9.6,0M403.9,660.3a4.8,4.8 0 1,0 9.6,0a4.8,4.8 0 1,0 -9.6,0M405.1,660.6a4.8,4.8 0 1,0 9.6,0a4.8,4.8 0 1,0 -9.6,0M406.3,661.1a4.8,4.8 0 1,0 9.6,0a4.8,4.8 0 1,0 -9.6,0M407.5,660.7a4.8,4.8 0 1,0 9.6,0a4.8,4.8 0 1,0 -9.6,0M408.7,660.9a4.8,4.8 0 1,0 9.6,0a4.8,4.8 0 1,0 -9.6,0M409.9,661.0a4.8,4.8 0 1,0 9.6,0a4.8,4.8 0 1,0 -9.6,0M411.1,660.5a4.8,4.8 0 1,0 9.6,0a4.8,4.8 0 1,0 -9.6,0M412.3,660.9a4.8,4.8 0 1,0 9.6,0a4.8,4.8 0 1,0 -9.6,0M413.5,660.7a4.8,4.8 0 1,0 9.6,0a4.8,4.8 0 1,0 -9.6,0M414.7,660.6a4.8,4.8 0 1,0 9.6,0a4.8,4.8 0 1,0 -9.6,0M415.9,660.8a4.8,4.8 0 1,0 9.6,0a4.8,4.8 0 1,0 -9.6,0M417.1,660.8a4.8,4.8 0 1,0 9.6,0a4.8,4.8 0 1,0 -9.6,0M418.3,660.7a4.8,4.8 0 1,0 9.6,0a4.8,4.8 0 1,0 -9.6,0M419.5,660.7a4.8,4.8 0 1,0 9.6,0a4.8,4.8 0 1,0 -9.6,0M420.7,661.1a4.8,4.8 0 1,0 9.6,0a4.8,4.8 0 1,0 -9.6,0M421.9,661.2a4.8,4.8 0 1,0 9.6,0a4.8,4.8 0 1,0 -9.6,0M423.1,661.0a4.8,4.8 0 1,0 9.6,0a4.8,4.8 0 1,0 -9.6,0M424.3,660.8a4.8,4.8 0 1,0 9.6,0a4.8,4.8 0 1,0 -9.6,0M425.5,660.6a4.8,4.8 0 1,0 9.6,0a4.8,4.8 0 1,0 -9.6,0M426.7,660.7a4.8,4.8 0 1,0 9.6,0a4.8,4.8 0 1,0 -9.6,0M427.9,660.6a4.8,4.8 0 1,0 9.6,0a4.8,4.8 0 1,0 -9.6,0M429.1,660.9a4.8,4.8 0 1,0 9.6,0a4.8,4.8 0 1,0 -9.6,0M430.3,661.1a4.8,4.8 0 1,0 9.6,0a4.8,4.8 0 1,0 -9.6,0M431.5,661.1a4.8,4.8 0 1,0 9.6,0a4.8,4.8 0 1,0 -9.6,0M432.7,660.9a4.8,4.8 0 1,0 9.6,0a4.8,4.8 0 1,0 -9.6,0M433.9,660.8a4.8,4.8 0 1,0 9.6,0a4.8,4.8 0 1,0 -9.6,0M435.1,661.0a4.8,4.8 0 1,0 9.6,0a4.8,4.8 0 1,0 -9.6,0M436.3,660.9a4.8,4.8 0 1,0 9.6,0a4.8,4.8 0 1,0 -9.6,0M437.5,661.1a4.8,4.8 0 1,0 9.6,0a4.8,4.8 0 1,0 -9.6,0M438.7,661.3a4.8,4.8 0 1,0 9.6,0a4.8,4.8 0 1,0 -9.6,0M439.9,660.7a4.8,4.8 0 1,0 9.6,0a4.8,4.8 0 1,0 -9.6,0M441.1,661.5a4.8,4.8 0 1,0 9.6,0a4.8,4.8 0 1,0 -9.6,0M442.3,660.4a4.8,4.8 0 1,0 9.6,0a4.8,4.8 0 1,0 -9.6,0M443.5,660.5a4.8,4.8 0 1,0 9.6,0a4.8,4.8 0 1,0 -9.6,0M444.7,660.5a4.8,4.8 0 1,0 9.6,0a4.8,4.8 0 1,0 -9.6,0M445.9,660.7a4.8,4.8 0 1,0 9.6,0a4.8,4.8 0 1,0 -9.6,0M447.1,660.9a4.8,4.8 0 1,0 9.6,0a4.8,4.8 0 1,0 -9.6,0M448.3,661.5a4.8,4.8 0 1,0 9.6,0a4.8,4.8 0 1,0 -9.6,0M449.5,660.8a4.8,4.8 0 1,0 9.6,0a4.8,4.8 0 1,0 -9.6,0M450.7,661.3a4.8,4.8 0 1,0 9.6,0a4.8,4.8 0 1,0 -9.6,0M451.9,660.9a4.8,4.8 0 1,0 9.6,0a4.8,4.8 0 1,0 -9.6,0M453.1,661.0a4.8,4.8 0 1,0 9.6,0a4.8,4.8 0 1,0 -9.6,0M454.3,660.7a4.8,4.8 0 1,0 9.6,0a4.8,4.8 0 1,0 -9.6,0M455.5,661.6a4.8,4.8 0 1,0 9.6,0a4.8,4.8 0 1,0 -9.6,0M456.7,661.0a4.8,4.8 0 1,0 9.6,0a4.8,4.8 0 1,0 -9.6,0M457.9,660.8a4.8,4.8 0 1,0 9.6,0a4.8,4.8 0 1,0 -9.6,0M459.1,661.6a4.8,4.8 0 1,0 9.6,0a4.8,4.8 0 1,0 -9.6,0M460.3,661.0a4.8,4.8 0 1,0 9.6,0a4.8,4.8 0 1,0 -9.6,0M461.5,661.1a4.8,4.8 0 1,0 9.6,0a4.8,4.8 0 1,0 -9.6,0" fill="#f00"/>
<polyline points="153.6,435.5 154.1,443.5 154.6,451.2 155.1,458.7 155.6,465.9 156.1,472.8 156.6,479.5 157.1,486.0 157.6,492.2 158.1,498.2 158.6,504.0 159.1,509.6 159.6,515.0 160.1,520.2 160.6,525.2 161.1,530.1 161.6,534.7 162.1,539.3 162.6,543.6 163.1,547.8 163.6,551.8 164.1,555.7 164.6,559.5 165.1,563.1 165.6,566.6 166.1,570.0 166.6,573.3 167.1,576.4 167.6,579.5 168.1,582.4 168.6,585.2 169.1,587.9 169.6,590.6 170.1,593.1 170.6,595.5 171.1,597.9 171.6,600.2 172.1,602.4 172.6,604.5 173.1,606.5 173.6,608.5 174.1,610.4 174.6,612.2 175.1,614.0 175.6,615.7 176.1,617.4 176.6,618.9 177.1,620.5 177.6,622.0 178.1,623.4 178.6,624.8 179.1,626.1 179.6,627.4 180.1,628.6 180.6,629.8 181.1,630.9 181.6,632.0 182.1,633.1 182.6,634.1 183.1,635.1 183.6,636.1 184.1,637.0 184.6,637.9 185.1,638.8 185.6,639.6 186.1,640.4 186.6,641.2 187.1,641.9 187.6,642.7 188.1,643.3 188.6,644.0 189.1,644.7 189.6,645.3 190.1,645.9 190.6,646.5 191.1,647.0 191.6,647.6 192.1,648.1 192.6,648.6 193.1,649.1 193.6,649.5 194.1,650.0 194.6,650.4 195.1,650.8 195.6,651.2 196.1,651.6 196.6,652.0 197.1,652.4 197.6,652.7 198.1,653.1 198.6,653.4 199.1,653.7 199.6,654.0 200.1,654.3 200.6,654.6 201.1,654.9 201.6,655.1 202.1,655.4 202.6,655.6 203.1,655.9 203.6,656.1 204.1,656.3 204.6,656.5 205.1,656.7 205.6,656.9 206.1,657.1 206.6,657.3 207.1,657.5 207.6,657.6 208.1,657.8 208.6,658.0 209.1,658.1 209.6,658.3 210.1,658.4 210.6,658.5 211.1,658.7 211.6,658.8 212.1,658.9 212.6,659.0 213.1,659.2 213.6,659.3 217.6,660.0 221.6,660.6 225.6,661.0 229.6,661.3 233.6,661.6 237.6,661.8 241.6,661.9 245.6,662.0 249.6,662.1 253.6,662.1 257.6,662.2 261.6,662.2 265.6,662.2 269.6,662.2 273.6,662.3 277.6,662.3 281.6,662.3 285.6,662.3 289.6,662.3 293.6,662.3 297.6,662.3 301.6,662.3 305.6,662.3 309.6,662.3 313.6,662.3 317.6,662.3 321.6,662.3 325.6,662.3 329.6,662.3 333.6,662.3 337.6,662.3 341.6,662.3 345.6,662.3 349.6,662.3 353.6,662.3 357.6,662.3 361.6,662.3 365.6,662.3 369.6,662.3 373.6,662.3 377.6,662.3 381.6,662.3 385.6,662.3 389.6,662.3 393.6,662.3 397.6,662.3 401.6,662.3 405.6,662.3 409.6,662.3 413.6,662.3 417.6,662.3 421.6,662.3 425.6,662.3 429.6,662.3 433.6,662.3 437.6,662.3 441.6,662.3 445.6,662.3 449.6,662.3 453.6,662.3 457.6,662.3 461.6,662.3 465.6,662.3 467.5,662.3" fill="none" stroke="#f0f" stroke-width="2.2" stroke-linecap="round" stroke-linejoin="round"/>
<polyline points="175.5,435.5 176.0,442.5 176.5,449.2 177.0,455.8 177.5,462.1 178.0,468.3 178.5,474.3 179.0,480.1 179.5,485.7 180.0,491.1 180.5,496.4 181.0,501.5 181.5,506.4 182.0,511.2 182.5,515.9 183.0,520.4 183.5,524.7 184.0,529.0 184.5,533.1 185.0,537.0 185.5,540.9 186.0,544.6 186.5,548.3 187.0,551.8 187.5,555.2 188.0,558.5 188.5,561.7 189.0,564.8 189.5,567.8 190.0,570.7 190.5,573.5 191.0,576.2 191.5,578.9 192.0,581.4 192.5,583.9 193.0,586.3 193.5,588.7 194.0,590.9 194.5,593.1 195.0,595.3 195.5,597.3 196.0,599.3 196.5,601.3 197.0,603.1 197.5,605.0 198.0,606.7 198.5,608.4 199.0,610.1 199.5,611.7 200.0,613.3 200.5,614.8 201.0,616.2 201.5,617.6 202.0,619.0 202.5,620.3 203.0,621.6 203.5,622.9 204.0,624.1 204.5,625.3 205.0,626.4 205.5,627.5 206.0,628.6 206.5,629.6 207.0,630.6 207.5,631.6 208.0,632.6 208.5,633.5 209.0,634.4 209.5,635.2 210.0,636.0 210.5,636.9 211.0,637.6 211.5,638.4 212.0,639.1 212.5,639.8 213.0,640.5 213.5,641.2 214.0,641.9 214.5,642.5 215.0,643.1 215.5,643.7 216.0,644.3 216.5,644.8 217.0,645.3 217.5,645.9 218.0,646.4 218.5,646.9 219.0,647.3 219.5,647.8 220.0,648.2 220.5,648.7 221.0,649.1 221.5,649.5 222.0,649.9 222.5,650.3 223.0,650.6 223.5,651.0 224.0,651.4 224.5,651.7 225.0,652.0 225.5,652.3 226.0,652.6 226.5,652.9 227.0,653.2 227.5,653.5 228.0,653.8 228.5,654.0 229.0,654.3 229.5,654.5 230.0,654.8 230.5,655.0 231.0,655.2 231.5,655.5 232.0,655.7 232.5,655.9 233.0,656.1 233.5,656.3 234.0,656.4 234.5,656.6 235.0,656.8 235.5,657.0 239.5,658.1 243.5,659.1 247.5,659.8 251.5,660.3 255.5,660.8 259.5,661.1 263.5,661.4 267.5,661.6 271.5,661.7 275.5,661.9 279.5,662.0 283.5,662.0 287.5,662.1 291.5,662.1 295.5,662.2 299.5,662.2 303.5,662.2 307.5,662.2 311.5,662.3 315.5,662.3 319.5,662.3 323.5,662.3 327.5,662.3 331.5,662.3 335.5,662.3 339.5,662.3 343.5,662.3 347.5,662.3 351.5,662.3 355.5,662.3 359.5,662.3 363.5,662.3 367.5,662.3 371.5,662.3 375.5,662.3 379.5,662.3 383.5,662.3 387.5,662.3 391.5,662.3 395.5,662.3 399.5,662.3 403.5,662.3 407.5,662.3 411.5,662.3 415.5,662.3 419.5,662.3 423.5,662.3 427.5,662.3 431.5,662.3 435.5,662.3 439.5,662.3 443.5,662.3 447.5,662.3 451.5,662.3 455.5,662.3 459.5,662.3 463.5,662.3 467.5,662.3 467.5,662.3" fill="none" stroke="#00f" stroke-width="2.2" stroke-linecap="round" stroke-linejoin="round"/>
<line x1="179.3" y1="466.8" x2="208.76" y2="453.91" stroke="#00f" stroke-width="1.8"/>
<path d="M217,450.3L210.16,457.11L207.35,450.70z" fill="#00f"/>
<line x1="162.4" y1="520.6" x2="213.76" y2="499.78" stroke="#f0f" stroke-width="1.8"/>
<path d="M222.1,496.4L215.07,503.02L212.44,496.54z" fill="#f0f"/>
<rect x="230.4" y="529.6" width="6.6" height="6.6" fill="#000"/>
<circle cx="233.7" cy="556" r="4" fill="#f00"/>
<line x1="234.9" y1="607" x2="269.6" y2="607" stroke="#f0f" stroke-width="2"/>
<line x1="234.9" y1="630" x2="269.6" y2="630" stroke="#00f" stroke-width="2"/>
<polyline points="577.7,422.6 693.9,603.8 740,641.4 809.5,628.8 832.7,628.6 890.6,632.4" fill="none" stroke="#f00" stroke-width="2.4"/>
<polyline points="612.6,548.4 670.5,657.5 693.4,659.6 716.9,649.5 740,655.4 763.5,661.7" fill="none" stroke="#000" stroke-width="2.4"/>
<circle cx="577.7" cy="422.6" r="5.9" fill="#f00"/>
<circle cx="693.9" cy="603.8" r="5.9" fill="#f00"/>
<circle cx="740" cy="641.4" r="5.9" fill="#f00"/>
<circle cx="809.5" cy="628.8" r="5.9" fill="#f00"/>
<circle cx="832.7" cy="628.6" r="5.9" fill="#f00"/>
<circle cx="890.6" cy="632.4" r="5.9" fill="#f00"/>
<rect x="607.2" y="543.0" width="10.8" height="10.8" fill="#000"/>
<rect x="665.1" y="652.1" width="10.8" height="10.8" fill="#000"/>
<rect x="688.0" y="654.2" width="10.8" height="10.8" fill="#000"/>
<rect x="711.5" y="644.1" width="10.8" height="10.8" fill="#000"/>
<rect x="734.6" y="650.0" width="10.8" height="10.8" fill="#000"/>
<rect x="758.1" y="656.3" width="10.8" height="10.8" fill="#000"/>
<line x1="667" y1="420.2" x2="695.8" y2="420.2" stroke="#f00" stroke-width="2.4"/>
<circle cx="681.5" cy="420.2" r="5.9" fill="#f00"/>
<line x1="667" y1="449.7" x2="695.8" y2="449.7" stroke="#000" stroke-width="2.4"/>
<rect x="676.1" y="444.6" width="10.8" height="10.8" fill="#000"/>
</svg>
</body></html>
